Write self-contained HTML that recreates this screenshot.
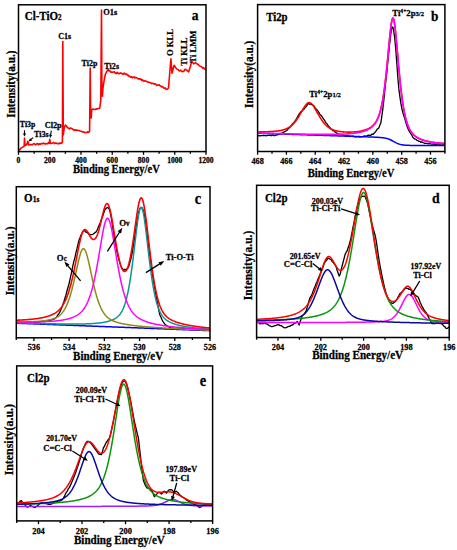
<!DOCTYPE html>
<html><head><meta charset="utf-8"><style>
html,body{margin:0;padding:0;background:#fff;width:457px;height:550px;overflow:hidden}
svg{display:block}
text{font-family:'Liberation Serif',serif;font-weight:bold;fill:#000;stroke:#000;stroke-width:0.25px}
</style></head><body>
<svg width="457" height="550" viewBox="0 0 457 550">
<rect width="457" height="550" fill="#fff"/>
<g>
<path d="M18.80,151.00 L21.00,148.10 L23.00,146.90 L24.20,146.00 L24.50,138.10 L24.90,145.60 L26.50,144.80 L27.90,141.30 L28.50,145.00 L29.31,144.52 L30.12,144.89 L30.94,144.54 L31.75,144.81 L32.56,144.75 L33.38,143.82 L34.19,143.66 L35.00,144.30 L35.88,144.72 L36.75,143.76 L37.62,143.64 L38.50,144.69 L39.38,143.82 L40.25,144.28 L41.12,143.65 L42.00,143.60 L42.81,143.78 L43.62,143.01 L44.43,143.70 L45.24,144.02 L46.06,143.47 L46.87,143.76 L47.68,143.62 L48.49,142.68 L49.30,143.30 L49.75,139.40 L50.30,143.20 L51.11,143.57 L51.93,143.31 L52.74,142.86 L53.56,142.44 L54.37,143.68 L55.19,143.07 L56.00,143.10 L56.83,143.41 L57.66,143.64 L58.49,143.38 L59.31,143.67 L60.14,142.87 L60.97,143.47 L61.80,143.00 L62.40,142.00 L62.80,41.50 L63.30,135.00 L64.20,128.00 L65.40,125.00 L66.43,125.95 L67.47,127.72 L68.50,128.10 L69.40,128.93 L70.30,128.02 L71.20,128.33 L72.10,128.72 L73.00,129.40 L73.88,130.30 L74.75,129.70 L75.62,130.19 L76.50,129.90 L77.38,130.41 L78.25,130.43 L79.12,130.58 L80.00,131.00 L80.85,131.27 L81.70,131.41 L82.55,132.03 L83.40,131.83 L84.25,132.34 L85.10,132.37 L85.95,132.72 L86.80,132.38 L87.65,131.75 L88.50,132.40 L89.60,131.50 L90.20,68.00 L90.60,110.00 L91.20,118.00 L91.80,109.50 L93.00,109.00 L94.00,109.47 L95.00,109.56 L96.00,108.80 L96.95,109.21 L97.90,108.50 L98.85,108.52 L99.80,108.00 L100.80,100.00 L101.50,10.00 L101.90,90.00 L102.40,96.10 L103.00,88.00 L104.10,80.50 L105.30,74.50 L106.70,71.50 L108.00,70.00 L108.40,69.40 L109.00,71.00 L110.00,70.90 L111.00,72.16 L112.00,72.00 L112.86,72.28 L113.71,72.02 L114.57,71.86 L115.43,73.22 L116.29,73.59 L117.14,72.41 L118.00,73.20 L118.88,73.73 L119.75,73.22 L120.62,72.90 L121.50,73.19 L122.38,73.98 L123.25,74.21 L124.12,73.04 L125.00,73.80 L125.83,74.39 L126.67,73.95 L127.50,75.38 L128.33,75.21 L129.17,76.45 L130.00,76.30 L130.83,77.27 L131.67,76.81 L132.50,77.80 L133.33,77.01 L134.17,76.92 L135.00,77.95 L135.83,77.35 L136.67,77.85 L137.50,78.41 L138.33,78.97 L139.17,78.53 L140.00,79.30 L140.83,78.88 L141.67,80.39 L142.50,79.82 L143.33,81.05 L144.17,81.23 L145.00,80.72 L145.83,81.11 L146.67,81.46 L147.50,81.92 L148.33,82.11 L149.17,82.32 L150.00,82.50 L150.83,82.96 L151.67,83.71 L152.50,83.34 L153.33,83.50 L154.17,84.21 L155.00,83.76 L155.83,84.13 L156.67,85.42 L157.50,85.01 L158.33,85.32 L159.17,84.79 L160.00,85.80 L160.88,86.14 L161.75,86.84 L162.62,86.47 L163.50,87.82 L164.38,88.31 L165.25,87.92 L166.12,89.23 L167.00,89.50 L168.50,88.00 L170.40,65.00 L170.90,58.70 L171.50,66.00 L172.00,73.30 L174.10,65.30 L175.10,66.58 L176.10,68.24 L177.10,69.30 L177.95,69.50 L178.80,70.44 L179.65,70.91 L180.50,70.25 L181.35,70.72 L182.20,71.80 L183.07,71.44 L183.95,71.24 L184.82,69.55 L185.70,69.30 L186.70,70.07 L187.70,71.11 L188.70,71.80 L190.50,66.00 L191.70,61.30 L193.70,63.80 L195.20,62.80 L196.05,63.11 L196.90,63.76 L197.75,64.27 L198.60,64.94 L199.45,65.86 L200.30,66.30 L201.13,66.50 L201.97,67.12 L202.80,68.21 L203.63,67.59 L204.47,68.90 L205.30,69.30" fill="none" stroke="#ff0000" stroke-width="1.6" stroke-linejoin="round" stroke-linecap="round" />
<rect x="18.50" y="4.80" width="187.50" height="146.80" fill="none" stroke="#000" stroke-width="1.5"/>
<line x1="18.50" y1="151.60" x2="18.50" y2="154.80" stroke="#000" stroke-width="1.3"/>
<text transform="translate(18.50,162.80) scale(1,1.05)" font-size="7.6" text-anchor="middle" >0</text>
<line x1="34.12" y1="151.60" x2="34.12" y2="153.80" stroke="#000" stroke-width="1.3"/>
<line x1="49.75" y1="151.60" x2="49.75" y2="154.80" stroke="#000" stroke-width="1.3"/>
<text transform="translate(49.75,162.80) scale(1,1.05)" font-size="7.6" text-anchor="middle" >200</text>
<line x1="65.38" y1="151.60" x2="65.38" y2="153.80" stroke="#000" stroke-width="1.3"/>
<line x1="81.00" y1="151.60" x2="81.00" y2="154.80" stroke="#000" stroke-width="1.3"/>
<text transform="translate(81.00,162.80) scale(1,1.05)" font-size="7.6" text-anchor="middle" >400</text>
<line x1="96.62" y1="151.60" x2="96.62" y2="153.80" stroke="#000" stroke-width="1.3"/>
<line x1="112.25" y1="151.60" x2="112.25" y2="154.80" stroke="#000" stroke-width="1.3"/>
<text transform="translate(112.25,162.80) scale(1,1.05)" font-size="7.6" text-anchor="middle" >600</text>
<line x1="127.88" y1="151.60" x2="127.88" y2="153.80" stroke="#000" stroke-width="1.3"/>
<line x1="143.50" y1="151.60" x2="143.50" y2="154.80" stroke="#000" stroke-width="1.3"/>
<text transform="translate(143.50,162.80) scale(1,1.05)" font-size="7.6" text-anchor="middle" >800</text>
<line x1="159.12" y1="151.60" x2="159.12" y2="153.80" stroke="#000" stroke-width="1.3"/>
<line x1="174.75" y1="151.60" x2="174.75" y2="154.80" stroke="#000" stroke-width="1.3"/>
<text transform="translate(174.75,162.80) scale(1,1.05)" font-size="7.6" text-anchor="middle" >1000</text>
<line x1="190.38" y1="151.60" x2="190.38" y2="153.80" stroke="#000" stroke-width="1.3"/>
<line x1="206.00" y1="151.60" x2="206.00" y2="154.80" stroke="#000" stroke-width="1.3"/>
<text transform="translate(206.00,162.80) scale(1,1.05)" font-size="7.6" text-anchor="middle" >1200</text>
<text transform="translate(43.15,19.80) scale(1,1.15)" font-size="11" text-anchor="middle" >Cl-TiO<tspan font-size="7">2</tspan></text>
<text transform="translate(195.05,20.20) scale(1,1.1)" font-size="13.5" text-anchor="middle" >a</text>
<text transform="translate(64.70,39.40) scale(1,1.03)" font-size="8" text-anchor="middle" >C1s</text>
<text transform="translate(110.20,15.00) scale(1,1.03)" font-size="8.4" text-anchor="middle" >O1s</text>
<text transform="translate(89.55,66.30) scale(1,1.03)" font-size="8" text-anchor="middle" >Ti2p</text>
<text transform="translate(111.70,69.00) scale(1,1.03)" font-size="8.1" text-anchor="middle" >Ti2s</text>
<text transform="translate(27.55,126.90) scale(1,1.03)" font-size="7.8" text-anchor="middle" >Ti3p</text>
<text transform="translate(41.30,136.80) scale(1,1.03)" font-size="8.1" text-anchor="middle" >Ti3s</text>
<text transform="translate(53.20,128.10) scale(1,1.03)" font-size="8.3" text-anchor="middle" >Cl2p</text>
<line x1="24.50" y1="130.20" x2="24.50" y2="134.40" stroke="#000" stroke-width="1.1"/>
<polygon points="24.50,136.60 22.90,133.40 26.10,133.40" fill="#000"/>
<line x1="33.20" y1="137.60" x2="30.30" y2="140.00" stroke="#000" stroke-width="1.1"/>
<polygon points="28.60,141.40 30.05,138.13 32.09,140.60" fill="#000"/>
<line x1="51.30" y1="130.60" x2="50.45" y2="135.83" stroke="#000" stroke-width="1.1"/>
<polygon points="50.10,138.00 49.03,134.59 52.19,135.10" fill="#000"/>
<text transform="translate(173.0,42.6) rotate(-90)" font-size="8.6" text-anchor="middle">O KLL</text>
<text transform="translate(186.6,51.7) rotate(-90)" font-size="8.6" text-anchor="middle">Ti KLL</text>
<text transform="translate(196.2,46.65) rotate(-90)" font-size="8.6" text-anchor="middle">Ti LMM</text>
<text transform="translate(15.30,84.15) rotate(-90) scale(1,1.08)" font-size="11.2" text-anchor="middle">Intensity(a.u.)</text>
<text transform="translate(116.40,173.40) scale(1,1.08)" font-size="10.6" text-anchor="middle" >Binding Energy/eV</text>
</g>
<path d="M257.80,135.56 L258.80,135.66 L259.80,135.99 L260.80,135.57 L261.80,135.60 L262.80,135.67 L263.80,135.30 L264.80,135.58 L265.80,135.66 L266.80,135.79 L267.80,135.13 L268.80,135.29 L269.80,135.06 L270.80,135.67 L271.80,135.51 L272.80,134.87 L273.80,135.65 L274.80,135.56 L275.80,135.20 L276.80,135.06 L277.80,134.54 L278.80,134.28 L279.80,134.35 L280.80,133.48 L281.80,133.12 L282.80,132.67 L283.80,131.94 L284.80,131.74 L285.80,131.00 L286.80,130.47 L287.80,129.22 L288.80,128.37 L289.80,127.23 L290.80,126.26 L291.80,124.88 L292.80,123.41 L293.80,122.65 L294.80,121.26 L295.80,119.81 L296.80,118.27 L297.80,116.40 L298.80,114.69 L299.80,113.11 L300.80,111.86 L301.80,111.41 L302.80,110.00 L303.80,109.39 L304.80,108.08 L305.80,107.14 L306.80,105.77 L307.80,104.08 L308.80,103.74 L309.80,104.26 L310.80,103.92 L311.80,104.80 L312.80,105.02 L313.80,105.74 L314.80,107.44 L315.80,108.86 L316.80,109.71 L317.80,110.85 L318.80,112.34 L319.80,114.11 L320.80,115.11 L321.80,116.25 L322.80,117.98 L323.80,119.34 L324.80,120.69 L325.80,122.63 L326.80,123.47 L327.80,125.18 L328.80,126.35 L329.80,127.30 L330.80,128.89 L331.80,129.30 L332.80,130.59 L333.80,130.90 L334.80,131.89 L335.80,132.39 L336.80,133.01 L337.80,134.00 L338.80,134.18 L339.80,134.03 L340.80,134.84 L341.80,134.49 L342.80,134.90 L343.80,135.54 L344.80,135.56 L345.80,135.27 L346.80,136.25 L347.80,135.72 L348.80,135.91 L349.80,136.52 L350.80,136.23 L351.80,136.30 L352.80,136.19 L353.80,136.27 L354.80,136.77 L355.80,136.51 L356.80,136.85 L357.80,136.65 L358.80,136.71 L359.80,137.13 L360.80,136.64 L361.80,136.64 L362.80,136.79 L363.80,136.03 L364.80,135.83 L365.80,136.29 L366.80,135.94 L367.80,135.30 L368.80,135.10 L369.80,135.38 L370.80,135.26 L371.80,134.19 L372.80,134.35 L373.80,133.62 L374.80,132.53 L375.80,131.29 L376.80,129.78 L377.80,128.66 L378.80,128.00 L379.80,125.33 L380.80,123.09 L381.80,116.31 L382.80,109.21 L383.80,100.43 L384.80,90.53 L385.80,81.08 L386.80,72.57 L387.80,62.14 L388.80,52.02 L389.80,42.35 L390.80,33.96 L391.80,27.70 L392.80,26.97 L393.80,31.48 L394.80,38.91 L395.80,49.97 L396.80,63.31 L397.80,77.25 L398.80,88.40 L399.80,96.13 L400.80,102.89 L401.80,108.49 L402.80,112.37 L403.80,115.78 L404.80,118.48 L405.80,122.40 L406.80,125.50 L407.80,128.31 L408.80,130.50 L409.80,132.07 L410.80,133.72 L411.80,135.19 L412.80,137.27 L413.80,138.17 L414.80,139.22 L415.80,139.07 L416.80,140.23 L417.80,140.63 L418.80,141.32 L419.80,141.36 L420.80,142.33 L421.80,141.80 L422.80,142.50 L423.80,142.91 L424.80,143.27 L425.80,143.31 L426.80,143.44 L427.80,143.66 L428.80,143.90 L429.80,143.50 L430.80,143.90 L431.80,144.17 L432.80,144.21 L433.80,143.86 L434.80,144.25 L435.80,144.36 L436.80,144.13 L437.80,144.20 L438.80,144.00 L439.80,144.19 L440.80,144.22 L441.80,143.74 L442.80,144.24 L443.80,144.55 L444.00,144.10" fill="none" stroke="#000" stroke-width="1.3" stroke-linejoin="round" stroke-linecap="round" />
<path d="M257.80,133.24 L258.30,133.25 L258.80,133.27 L259.30,133.29 L259.80,133.30 L260.30,133.32 L260.80,133.34 L261.30,133.35 L261.80,133.37 L262.30,133.39 L262.80,133.40 L263.30,133.42 L263.80,133.44 L264.30,133.45 L264.80,133.47 L265.30,133.49 L265.80,133.50 L266.30,133.52 L266.80,133.53 L267.30,133.55 L267.80,133.57 L268.30,133.58 L268.80,133.60 L269.30,133.62 L269.80,133.63 L270.30,133.65 L270.80,133.67 L271.30,133.68 L271.80,133.70 L272.30,133.72 L272.80,133.73 L273.30,133.75 L273.80,133.77 L274.30,133.78 L274.80,133.80 L275.30,133.82 L275.80,133.83 L276.30,133.85 L276.80,133.87 L277.30,133.88 L277.80,133.90 L278.30,133.92 L278.80,133.93 L279.30,133.95 L279.80,133.97 L280.30,133.98 L280.80,134.00 L281.30,134.02 L281.80,134.03 L282.30,134.05 L282.80,134.07 L283.30,134.08 L283.80,134.10 L284.30,134.12 L284.80,134.13 L285.30,134.15 L285.80,134.16 L286.30,134.18 L286.80,134.20 L287.30,134.21 L287.80,134.23 L288.30,134.25 L288.80,134.26 L289.30,134.28 L289.80,134.30 L290.30,134.31 L290.80,134.33 L291.30,134.35 L291.80,134.36 L292.30,134.38 L292.80,134.40 L293.30,134.41 L293.80,134.43 L294.30,134.45 L294.80,134.46 L295.30,134.48 L295.80,134.50 L296.30,134.51 L296.80,134.53 L297.30,134.55 L297.80,134.56 L298.30,134.58 L298.80,134.60 L299.30,134.61 L299.80,134.63 L300.30,134.65 L300.80,134.66 L301.30,134.68 L301.80,134.70 L302.30,134.71 L302.80,134.73 L303.30,134.75 L303.80,134.76 L304.30,134.78 L304.80,134.79 L305.30,134.81 L305.80,134.83 L306.30,134.84 L306.80,134.86 L307.30,134.88 L307.80,134.89 L308.30,134.91 L308.80,134.93 L309.30,134.94 L309.80,134.96 L310.30,134.98 L310.80,134.99 L311.30,135.01 L311.80,135.03 L312.30,135.04 L312.80,135.06 L313.30,135.08 L313.80,135.09 L314.30,135.11 L314.80,135.13 L315.30,135.14 L315.80,135.16 L316.30,135.18 L316.80,135.19 L317.30,135.21 L317.80,135.23 L318.30,135.24 L318.80,135.26 L319.30,135.28 L319.80,135.29 L320.30,135.31 L320.80,135.33 L321.30,135.34 L321.80,135.36 L322.30,135.37 L322.80,135.39 L323.30,135.41 L323.80,135.42 L324.30,135.44 L324.80,135.46 L325.30,135.47 L325.80,135.49 L326.30,135.51 L326.80,135.52 L327.30,135.54 L327.80,135.56 L328.30,135.57 L328.80,135.59 L329.30,135.61 L329.80,135.62 L330.30,135.64 L330.80,135.66 L331.30,135.67 L331.80,135.69 L332.30,135.71 L332.80,135.72 L333.30,135.74 L333.80,135.76 L334.30,135.77 L334.80,135.79 L335.30,135.81 L335.80,135.82 L336.30,135.84 L336.80,135.86 L337.30,135.87 L337.80,135.89 L338.30,135.91 L338.80,135.92 L339.30,135.94 L339.80,135.96 L340.30,135.97 L340.80,135.99 L341.30,136.00 L341.80,136.02 L342.30,136.04 L342.80,136.05 L343.30,136.07 L343.80,136.09 L344.30,136.10 L344.80,136.12 L345.30,136.14 L345.80,136.15 L346.30,136.17 L346.80,136.19 L347.30,136.20 L347.80,136.22 L348.30,136.24 L348.80,136.25 L349.30,136.27 L349.80,136.29 L350.30,136.30 L350.80,136.32 L351.30,136.34 L351.80,136.35 L352.30,136.37 L352.80,136.39 L353.30,136.40 L353.80,136.42 L354.30,136.44 L354.80,136.45 L355.30,136.47 L355.80,136.49 L356.30,136.50 L356.80,136.52 L357.30,136.54 L357.80,136.55 L358.30,136.57 L358.80,136.59 L359.30,136.60 L359.80,136.62 L360.30,136.64 L360.80,136.65 L361.30,136.67 L361.80,136.69 L362.30,136.70 L362.80,136.72 L363.30,136.74 L363.80,136.75 L364.30,136.77 L364.80,136.79 L365.30,136.80 L365.80,136.82 L366.30,136.84 L366.80,136.86 L367.30,136.87 L367.80,136.89 L368.30,136.91 L368.80,136.93 L369.30,136.94 L369.80,136.96 L370.30,136.98 L370.80,137.00 L371.30,137.02 L371.80,137.04 L372.30,137.06 L372.80,137.08 L373.30,137.10 L373.80,137.12 L374.30,137.14 L374.80,137.16 L375.30,137.19 L375.80,137.21 L376.30,137.24 L376.80,137.26 L377.30,137.29 L377.80,137.32 L378.30,137.36 L378.80,137.39 L379.30,137.43 L379.80,137.47 L380.30,137.51 L380.80,137.56 L381.30,137.61 L381.80,137.67 L382.30,137.72 L382.80,137.77 L383.30,137.82 L383.80,137.89 L384.30,137.96 L384.80,138.04 L385.30,138.13 L385.80,138.24 L386.30,138.35 L386.80,138.48 L387.30,138.62 L387.80,138.77 L388.30,138.94 L388.80,139.12 L389.30,139.31 L389.80,139.53 L390.30,139.75 L390.80,139.99 L391.30,140.24 L391.80,140.50 L392.30,140.77 L392.80,141.04 L393.30,141.32 L393.80,141.60 L394.30,141.87 L394.80,142.14 L395.30,142.41 L395.80,142.67 L396.30,142.91 L396.80,143.15 L397.30,143.37 L397.80,143.58 L398.30,143.77 L398.80,143.95 L399.30,144.11 L399.80,144.26 L400.30,144.39 L400.80,144.52 L401.30,144.63 L401.80,144.72 L402.30,144.81 L402.80,144.89 L403.30,144.96 L403.80,145.02 L404.30,145.08 L404.80,145.13 L405.30,145.17 L405.80,145.21 L406.30,145.24 L406.80,145.27 L407.30,145.30 L407.80,145.32 L408.30,145.34 L408.80,145.36 L409.30,145.37 L409.80,145.39 L410.30,145.40 L410.80,145.41 L411.30,145.42 L411.80,145.42 L412.30,145.43 L412.80,145.44 L413.30,145.44 L413.80,145.45 L414.30,145.45 L414.80,145.45 L415.30,145.46 L415.80,145.46 L416.30,145.46 L416.80,145.46 L417.30,145.47 L417.80,145.47 L418.30,145.47 L418.80,145.47 L419.30,145.47 L419.80,145.47 L420.30,145.47 L420.80,145.47 L421.30,145.47 L421.80,145.47 L422.30,145.47 L422.80,145.47 L423.30,145.48 L423.80,145.48 L424.30,145.48 L424.80,145.48 L425.30,145.48 L425.80,145.48 L426.30,145.48 L426.80,145.48 L427.30,145.48 L427.80,145.48 L428.30,145.48 L428.80,145.48 L429.30,145.48 L429.80,145.48 L430.30,145.48 L430.80,145.48 L431.30,145.48 L431.80,145.48 L432.30,145.48 L432.80,145.48 L433.30,145.48 L433.80,145.48 L434.30,145.48 L434.80,145.48 L435.30,145.48 L435.80,145.48 L436.30,145.48 L436.80,145.48 L437.30,145.48 L437.80,145.48 L438.30,145.48 L438.80,145.48 L439.30,145.48 L439.80,145.48 L440.30,145.48 L440.80,145.48 L441.30,145.48 L441.80,145.48 L442.30,145.48 L442.80,145.48 L443.30,145.48 L443.80,145.48 L444.00,145.48" fill="none" stroke="#0000ff" stroke-width="1.5" stroke-linejoin="round" stroke-linecap="round" />
<path d="M257.80,131.95 L258.30,131.94 L258.80,131.94 L259.30,131.93 L259.80,131.92 L260.30,131.92 L260.80,131.91 L261.30,131.90 L261.80,131.89 L262.30,131.88 L262.80,131.87 L263.30,131.86 L263.80,131.85 L264.30,131.84 L264.80,131.82 L265.30,131.81 L265.80,131.79 L266.30,131.77 L266.80,131.76 L267.30,131.74 L267.80,131.72 L268.30,131.70 L268.80,131.67 L269.30,131.65 L269.80,131.63 L270.30,131.60 L270.80,131.57 L271.30,131.54 L271.80,131.51 L272.30,131.48 L272.80,131.44 L273.30,131.40 L273.80,131.36 L274.30,131.32 L274.80,131.28 L275.30,131.23 L275.80,131.18 L276.30,131.12 L276.80,131.07 L277.30,131.00 L277.80,130.94 L278.30,130.87 L278.80,130.80 L279.30,130.72 L279.80,130.63 L280.30,130.54 L280.80,130.44 L281.30,130.34 L281.80,130.23 L282.30,130.11 L282.80,129.98 L283.30,129.84 L283.80,129.70 L284.30,129.54 L284.80,129.37 L285.30,129.19 L285.80,128.99 L286.30,128.78 L286.80,128.56 L287.30,128.32 L287.80,128.06 L288.30,127.79 L288.80,127.50 L289.30,127.18 L289.80,126.85 L290.30,126.49 L290.80,126.12 L291.30,125.71 L291.80,125.29 L292.30,124.84 L292.80,124.36 L293.30,123.86 L293.80,123.32 L294.30,122.77 L294.80,122.18 L295.30,121.56 L295.80,120.92 L296.30,120.25 L296.80,119.55 L297.30,118.82 L297.80,118.07 L298.30,117.29 L298.80,116.49 L299.30,115.67 L299.80,114.83 L300.30,113.97 L300.80,113.10 L301.30,112.22 L301.80,111.34 L302.30,110.45 L302.80,109.58 L303.30,108.72 L303.80,107.88 L304.30,107.07 L304.80,106.31 L305.30,105.59 L305.80,104.92 L306.30,104.33 L306.80,103.81 L307.30,103.38 L307.80,103.04 L308.30,102.80 L308.80,102.66 L309.30,102.63 L309.80,102.70 L310.30,102.88 L310.80,103.16 L311.30,103.54 L311.80,104.01 L312.30,104.56 L312.80,105.19 L313.30,105.88 L313.80,106.63 L314.30,107.43 L314.80,108.26 L315.30,109.12 L315.80,110.00 L316.30,110.89 L316.80,111.79 L317.30,112.69 L317.80,113.58 L318.30,114.47 L318.80,115.34 L319.30,116.19 L319.80,117.02 L320.30,117.83 L320.80,118.62 L321.30,119.38 L321.80,120.11 L322.30,120.82 L322.80,121.50 L323.30,122.15 L323.80,122.77 L324.30,123.36 L324.80,123.93 L325.30,124.47 L325.80,124.98 L326.30,125.46 L326.80,125.92 L327.30,126.35 L327.80,126.76 L328.30,127.14 L328.80,127.50 L329.30,127.84 L329.80,128.16 L330.30,128.46 L330.80,128.73 L331.30,129.00 L331.80,129.24 L332.30,129.47 L332.80,129.68 L333.30,129.88 L333.80,130.06 L334.30,130.24 L334.80,130.40 L335.30,130.55 L335.80,130.69 L336.30,130.82 L336.80,130.94 L337.30,131.05 L337.80,131.15 L338.30,131.25 L338.80,131.34 L339.30,131.42 L339.80,131.50 L340.30,131.57 L340.80,131.63 L341.30,131.69 L341.80,131.75 L342.30,131.80 L342.80,131.84 L343.30,131.89 L343.80,131.92 L344.30,131.96 L344.80,131.99 L345.30,132.01 L345.80,132.04 L346.30,132.06 L346.80,132.07 L347.30,132.09 L347.80,132.10 L348.30,132.10 L348.80,132.11 L349.30,132.11 L349.80,132.10 L350.30,132.10 L350.80,132.09 L351.30,132.07 L351.80,132.06 L352.30,132.04 L352.80,132.01 L353.30,131.99 L353.80,131.96 L354.30,131.92 L354.80,131.89 L355.30,131.84 L355.80,131.80 L356.30,131.75 L356.80,131.69 L357.30,131.63 L357.80,131.57 L358.30,131.50 L358.80,131.43 L359.30,131.35 L359.80,131.27 L360.30,131.18 L360.80,131.08 L361.30,130.98 L361.80,130.87 L362.30,130.75 L362.80,130.63 L363.30,130.50 L363.80,130.36 L364.30,130.21 L364.80,130.05 L365.30,129.88 L365.80,129.71 L366.30,129.52 L366.80,129.32 L367.30,129.10 L367.80,128.87 L368.30,128.63 L368.80,128.37 L369.30,128.09 L369.80,127.80 L370.30,127.48 L370.80,127.15 L371.30,126.78 L371.80,126.39 L372.30,125.97 L372.80,125.52 L373.30,125.03 L373.80,124.50 L374.30,123.93 L374.80,123.30 L375.30,122.62 L375.80,121.87 L376.30,121.06 L376.80,120.16 L377.30,119.18 L377.80,118.09 L378.30,116.90 L378.80,115.59 L379.30,114.15 L379.80,112.56 L380.30,110.81 L380.80,108.89 L381.30,106.78 L381.80,104.47 L382.30,101.93 L382.80,99.15 L383.30,96.14 L383.80,92.87 L384.30,89.33 L384.80,85.53 L385.30,81.46 L385.80,77.11 L386.30,72.51 L386.80,67.67 L387.30,62.62 L387.80,57.40 L388.30,52.07 L388.80,46.70 L389.30,41.40 L389.80,36.29 L390.30,31.51 L390.80,27.21 L391.30,23.56 L391.80,20.73 L392.30,18.84 L392.80,18.00 L393.30,18.27 L393.80,19.65 L394.30,22.07 L394.80,25.43 L395.30,29.58 L395.80,34.37 L396.30,39.62 L396.80,45.19 L397.30,50.91 L397.80,56.67 L398.30,62.38 L398.80,67.94 L399.30,73.31 L399.80,78.44 L400.30,83.31 L400.80,87.89 L401.30,92.18 L401.80,96.18 L402.30,99.89 L402.80,103.32 L403.30,106.48 L403.80,109.38 L404.30,112.05 L404.80,114.48 L405.30,116.70 L405.80,118.72 L406.30,120.56 L406.80,122.23 L407.30,123.75 L407.80,125.13 L408.30,126.39 L408.80,127.53 L409.30,128.57 L409.80,129.52 L410.30,130.39 L410.80,131.18 L411.30,131.91 L411.80,132.58 L412.30,133.20 L412.80,133.77 L413.30,134.30 L413.80,134.79 L414.30,135.24 L414.80,135.67 L415.30,136.07 L415.80,136.44 L416.30,136.79 L416.80,137.12 L417.30,137.43 L417.80,137.73 L418.30,138.01 L418.80,138.27 L419.30,138.52 L419.80,138.75 L420.30,138.98 L420.80,139.19 L421.30,139.39 L421.80,139.58 L422.30,139.77 L422.80,139.94 L423.30,140.11 L423.80,140.27 L424.30,140.42 L424.80,140.57 L425.30,140.71 L425.80,140.84 L426.30,140.97 L426.80,141.09 L427.30,141.21 L427.80,141.32 L428.30,141.43 L428.80,141.54 L429.30,141.64 L429.80,141.73 L430.30,141.83 L430.80,141.92 L431.30,142.00 L431.80,142.09 L432.30,142.17 L432.80,142.24 L433.30,142.32 L433.80,142.39 L434.30,142.46 L434.80,142.53 L435.30,142.59 L435.80,142.65 L436.30,142.71 L436.80,142.77 L437.30,142.83 L437.80,142.88 L438.30,142.94 L438.80,142.99 L439.30,143.04 L439.80,143.09 L440.30,143.14 L440.80,143.18 L441.30,143.23 L441.80,143.27 L442.30,143.31 L442.80,143.35 L443.30,143.39 L443.80,143.43 L444.00,143.44" fill="none" stroke="#ff0000" stroke-width="1.6" stroke-linejoin="round" stroke-linecap="round" />
<path d="M257.80,132.97 L258.30,132.98 L258.80,132.99 L259.30,133.01 L259.80,133.02 L260.30,133.04 L260.80,133.05 L261.30,133.07 L261.80,133.08 L262.30,133.10 L262.80,133.11 L263.30,133.12 L263.80,133.14 L264.30,133.15 L264.80,133.17 L265.30,133.18 L265.80,133.20 L266.30,133.21 L266.80,133.22 L267.30,133.24 L267.80,133.25 L268.30,133.27 L268.80,133.28 L269.30,133.29 L269.80,133.31 L270.30,133.32 L270.80,133.34 L271.30,133.35 L271.80,133.36 L272.30,133.38 L272.80,133.39 L273.30,133.40 L273.80,133.42 L274.30,133.43 L274.80,133.45 L275.30,133.46 L275.80,133.47 L276.30,133.49 L276.80,133.50 L277.30,133.51 L277.80,133.53 L278.30,133.54 L278.80,133.55 L279.30,133.57 L279.80,133.58 L280.30,133.59 L280.80,133.61 L281.30,133.62 L281.80,133.63 L282.30,133.64 L282.80,133.66 L283.30,133.67 L283.80,133.68 L284.30,133.70 L284.80,133.71 L285.30,133.72 L285.80,133.73 L286.30,133.75 L286.80,133.76 L287.30,133.77 L287.80,133.78 L288.30,133.80 L288.80,133.81 L289.30,133.82 L289.80,133.83 L290.30,133.85 L290.80,133.86 L291.30,133.87 L291.80,133.88 L292.30,133.89 L292.80,133.90 L293.30,133.92 L293.80,133.93 L294.30,133.94 L294.80,133.95 L295.30,133.96 L295.80,133.97 L296.30,133.98 L296.80,134.00 L297.30,134.01 L297.80,134.02 L298.30,134.03 L298.80,134.04 L299.30,134.05 L299.80,134.06 L300.30,134.07 L300.80,134.08 L301.30,134.09 L301.80,134.10 L302.30,134.11 L302.80,134.12 L303.30,134.13 L303.80,134.14 L304.30,134.15 L304.80,134.16 L305.30,134.17 L305.80,134.18 L306.30,134.19 L306.80,134.20 L307.30,134.21 L307.80,134.21 L308.30,134.22 L308.80,134.23 L309.30,134.24 L309.80,134.25 L310.30,134.26 L310.80,134.26 L311.30,134.27 L311.80,134.28 L312.30,134.29 L312.80,134.29 L313.30,134.30 L313.80,134.31 L314.30,134.31 L314.80,134.32 L315.30,134.33 L315.80,134.33 L316.30,134.34 L316.80,134.34 L317.30,134.35 L317.80,134.36 L318.30,134.36 L318.80,134.37 L319.30,134.37 L319.80,134.37 L320.30,134.38 L320.80,134.38 L321.30,134.39 L321.80,134.39 L322.30,134.39 L322.80,134.39 L323.30,134.40 L323.80,134.40 L324.30,134.40 L324.80,134.40 L325.30,134.40 L325.80,134.40 L326.30,134.40 L326.80,134.40 L327.30,134.40 L327.80,134.40 L328.30,134.40 L328.80,134.40 L329.30,134.40 L329.80,134.40 L330.30,134.39 L330.80,134.39 L331.30,134.39 L331.80,134.38 L332.30,134.38 L332.80,134.37 L333.30,134.37 L333.80,134.36 L334.30,134.35 L334.80,134.35 L335.30,134.34 L335.80,134.33 L336.30,134.32 L336.80,134.31 L337.30,134.30 L337.80,134.29 L338.30,134.27 L338.80,134.26 L339.30,134.25 L339.80,134.23 L340.30,134.22 L340.80,134.20 L341.30,134.18 L341.80,134.16 L342.30,134.14 L342.80,134.12 L343.30,134.10 L343.80,134.08 L344.30,134.06 L344.80,134.03 L345.30,134.00 L345.80,133.98 L346.30,133.95 L346.80,133.92 L347.30,133.88 L347.80,133.85 L348.30,133.82 L348.80,133.78 L349.30,133.74 L349.80,133.70 L350.30,133.66 L350.80,133.61 L351.30,133.57 L351.80,133.52 L352.30,133.46 L352.80,133.41 L353.30,133.35 L353.80,133.30 L354.30,133.23 L354.80,133.17 L355.30,133.10 L355.80,133.03 L356.30,132.96 L356.80,132.88 L357.30,132.80 L357.80,132.71 L358.30,132.62 L358.80,132.52 L359.30,132.43 L359.80,132.32 L360.30,132.21 L360.80,132.10 L361.30,131.98 L361.80,131.85 L362.30,131.72 L362.80,131.57 L363.30,131.43 L363.80,131.27 L364.30,131.11 L364.80,130.93 L365.30,130.75 L365.80,130.56 L366.30,130.35 L366.80,130.14 L367.30,129.91 L367.80,129.67 L368.30,129.41 L368.80,129.14 L369.30,128.85 L369.80,128.55 L370.30,128.22 L370.80,127.87 L371.30,127.49 L371.80,127.09 L372.30,126.66 L372.80,126.20 L373.30,125.70 L373.80,125.16 L374.30,124.58 L374.80,123.94 L375.30,123.25 L375.80,122.49 L376.30,121.67 L376.80,120.76 L377.30,119.77 L377.80,118.68 L378.30,117.48 L378.80,116.16 L379.30,114.71 L379.80,113.12 L380.30,111.36 L380.80,109.43 L381.30,107.31 L381.80,104.99 L382.30,102.45 L382.80,99.67 L383.30,96.64 L383.80,93.36 L384.30,89.82 L384.80,86.01 L385.30,81.93 L385.80,77.59 L386.30,72.98 L386.80,68.13 L387.30,63.08 L387.80,57.85 L388.30,52.51 L388.80,47.14 L389.30,41.84 L389.80,36.72 L390.30,31.93 L390.80,27.63 L391.30,23.98 L391.80,21.14 L392.30,19.24 L392.80,18.40 L393.30,18.67 L393.80,20.04 L394.30,22.45 L394.80,25.81 L395.30,29.96 L395.80,34.74 L396.30,39.99 L396.80,45.55 L397.30,51.27 L397.80,57.03 L398.30,62.73 L398.80,68.29 L399.30,73.66 L399.80,78.78 L400.30,83.64 L400.80,88.22 L401.30,92.51 L401.80,96.50 L402.30,100.21 L402.80,103.64 L403.30,106.80 L403.80,109.70 L404.30,112.35 L404.80,114.78 L405.30,117.00 L405.80,119.02 L406.30,120.85 L406.80,122.52 L407.30,124.04 L407.80,125.42 L408.30,126.67 L408.80,127.81 L409.30,128.85 L409.80,129.80 L410.30,130.66 L410.80,131.45 L411.30,132.18 L411.80,132.84 L412.30,133.46 L412.80,134.03 L413.30,134.55 L413.80,135.04 L414.30,135.50 L414.80,135.92 L415.30,136.32 L415.80,136.69 L416.30,137.04 L416.80,137.37 L417.30,137.67 L417.80,137.97 L418.30,138.24 L418.80,138.50 L419.30,138.75 L419.80,138.98 L420.30,139.20 L420.80,139.41 L421.30,139.62 L421.80,139.81 L422.30,139.99 L422.80,140.16 L423.30,140.33 L423.80,140.48 L424.30,140.64 L424.80,140.78 L425.30,140.92 L425.80,141.05 L426.30,141.18 L426.80,141.30 L427.30,141.41 L427.80,141.52 L428.30,141.63 L428.80,141.73 L429.30,141.83 L429.80,141.93 L430.30,142.02 L430.80,142.11 L431.30,142.19 L431.80,142.27 L432.30,142.35 L432.80,142.43 L433.30,142.50 L433.80,142.57 L434.30,142.64 L434.80,142.70 L435.30,142.77 L435.80,142.83 L436.30,142.89 L436.80,142.95 L437.30,143.00 L437.80,143.06 L438.30,143.11 L438.80,143.16 L439.30,143.21 L439.80,143.25 L440.30,143.30 L440.80,143.34 L441.30,143.39 L441.80,143.43 L442.30,143.47 L442.80,143.51 L443.30,143.55 L443.80,143.58 L444.00,143.60" fill="none" stroke="#ff00ff" stroke-width="1.6" stroke-linejoin="round" stroke-linecap="round" />
<rect x="257.60" y="4.60" width="187.30" height="146.90" fill="none" stroke="#000" stroke-width="1.5"/>
<line x1="444.90" y1="151.50" x2="444.90" y2="153.70" stroke="#000" stroke-width="1.3"/>
<line x1="430.49" y1="151.50" x2="430.49" y2="154.70" stroke="#000" stroke-width="1.3"/>
<text transform="translate(430.49,163.50) scale(1,1.05)" font-size="8.2" text-anchor="middle" >456</text>
<line x1="416.08" y1="151.50" x2="416.08" y2="153.70" stroke="#000" stroke-width="1.3"/>
<line x1="401.68" y1="151.50" x2="401.68" y2="154.70" stroke="#000" stroke-width="1.3"/>
<text transform="translate(401.68,163.50) scale(1,1.05)" font-size="8.2" text-anchor="middle" >458</text>
<line x1="387.27" y1="151.50" x2="387.27" y2="153.70" stroke="#000" stroke-width="1.3"/>
<line x1="372.86" y1="151.50" x2="372.86" y2="154.70" stroke="#000" stroke-width="1.3"/>
<text transform="translate(372.86,163.50) scale(1,1.05)" font-size="8.2" text-anchor="middle" >460</text>
<line x1="358.45" y1="151.50" x2="358.45" y2="153.70" stroke="#000" stroke-width="1.3"/>
<line x1="344.05" y1="151.50" x2="344.05" y2="154.70" stroke="#000" stroke-width="1.3"/>
<text transform="translate(344.05,163.50) scale(1,1.05)" font-size="8.2" text-anchor="middle" >462</text>
<line x1="329.64" y1="151.50" x2="329.64" y2="153.70" stroke="#000" stroke-width="1.3"/>
<line x1="315.23" y1="151.50" x2="315.23" y2="154.70" stroke="#000" stroke-width="1.3"/>
<text transform="translate(315.23,163.50) scale(1,1.05)" font-size="8.2" text-anchor="middle" >464</text>
<line x1="300.82" y1="151.50" x2="300.82" y2="153.70" stroke="#000" stroke-width="1.3"/>
<line x1="286.42" y1="151.50" x2="286.42" y2="154.70" stroke="#000" stroke-width="1.3"/>
<text transform="translate(286.42,163.50) scale(1,1.05)" font-size="8.2" text-anchor="middle" >466</text>
<line x1="272.01" y1="151.50" x2="272.01" y2="153.70" stroke="#000" stroke-width="1.3"/>
<line x1="257.60" y1="151.50" x2="257.60" y2="154.70" stroke="#000" stroke-width="1.3"/>
<text transform="translate(257.60,163.50) scale(1,1.05)" font-size="8.2" text-anchor="middle" >468</text>
<text transform="translate(276.90,21.00) scale(1,1.15)" font-size="10.8" text-anchor="middle" >Ti2p</text>
<text transform="translate(434.60,20.50) scale(1,1.1)" font-size="13.3" text-anchor="middle" >b</text>
<text transform="translate(309.20,97.00) scale(1,1.03)" font-size="8.7" text-anchor="start" >Ti<tspan font-size="5.6" dy="-3.4">4+</tspan><tspan dy="3.4">2p</tspan><tspan font-size="6.6">1/2</tspan></text>
<text transform="translate(392.30,16.30) scale(1,1.03)" font-size="8.7" text-anchor="start" >Ti<tspan font-size="5.6" dy="-3.4">4+</tspan><tspan dy="3.4">2p</tspan><tspan font-size="6.6">3/2</tspan></text>
<text transform="translate(253.20,74.35) rotate(-90) scale(1,1.08)" font-size="11.2" text-anchor="middle">Intensity(a.u.)</text>
<text transform="translate(351.00,176.90) scale(1,1.08)" font-size="10.6" text-anchor="middle" >Binding Energy/eV</text>
<path d="M16.90,323.09 L17.90,323.17 L18.90,323.21 L19.90,323.31 L20.90,323.16 L21.90,323.27 L22.90,322.64 L23.90,322.92 L24.90,323.23 L25.90,323.00 L26.90,323.15 L27.90,322.56 L28.90,322.77 L29.90,322.56 L30.90,322.72 L31.90,322.68 L32.90,322.22 L33.90,322.29 L34.90,322.25 L35.90,322.61 L36.90,322.40 L37.90,321.87 L38.90,322.20 L39.90,321.61 L40.90,321.80 L41.90,321.30 L42.90,321.09 L43.90,321.59 L44.90,321.00 L45.90,320.86 L46.90,321.24 L47.90,320.97 L48.90,320.35 L49.90,320.58 L50.90,320.01 L51.90,319.80 L52.90,319.11 L53.90,319.22 L54.90,318.59 L55.90,317.95 L56.90,316.68 L57.90,314.95 L58.90,313.58 L59.90,311.92 L60.90,309.77 L61.90,307.13 L62.90,304.53 L63.90,301.77 L64.90,298.17 L65.90,295.21 L66.90,291.27 L67.90,287.70 L68.90,284.24 L69.90,279.88 L70.90,275.31 L71.90,270.64 L72.90,265.70 L73.90,261.13 L74.90,257.71 L75.90,252.80 L76.90,248.95 L77.90,244.67 L78.90,240.59 L79.90,238.06 L80.90,235.23 L81.90,233.59 L82.90,231.42 L83.90,230.56 L84.90,230.74 L85.90,232.23 L86.90,232.32 L87.90,233.12 L88.90,233.89 L89.90,234.54 L90.90,234.57 L91.90,234.66 L92.90,234.36 L93.90,233.53 L94.90,232.66 L95.90,232.15 L96.90,230.53 L97.90,228.26 L98.90,225.47 L99.90,223.88 L100.90,220.67 L101.90,218.07 L102.90,215.41 L103.90,212.57 L104.90,209.80 L105.90,208.83 L106.90,207.82 L107.90,207.38 L108.90,208.55 L109.90,210.96 L110.90,215.68 L111.90,221.50 L112.90,228.21 L113.90,235.02 L114.90,240.50 L115.90,245.74 L116.90,251.39 L117.90,255.60 L118.90,259.60 L119.90,262.97 L120.90,266.03 L121.90,268.28 L122.90,269.34 L123.90,269.84 L124.90,269.27 L125.90,270.11 L126.90,269.02 L127.90,267.97 L128.90,265.97 L129.90,262.36 L130.90,258.87 L131.90,254.36 L132.90,248.53 L133.90,242.34 L134.90,235.28 L135.90,228.90 L136.90,222.23 L137.90,216.85 L138.90,211.71 L139.90,208.57 L140.90,207.57 L141.90,207.61 L142.90,209.39 L143.90,212.64 L144.90,217.88 L145.90,224.47 L146.90,231.74 L147.90,239.49 L148.90,247.56 L149.90,255.27 L150.90,263.02 L151.90,270.56 L152.90,277.08 L153.90,283.33 L154.90,289.22 L155.90,294.45 L156.90,299.70 L157.90,305.39 L158.90,310.77 L159.90,314.90 L160.90,317.07 L161.90,319.53 L162.90,321.37 L163.90,322.90 L164.90,324.15 L165.90,325.17 L166.90,325.70 L167.90,326.62 L168.90,326.87 L169.90,327.38 L170.90,327.87 L171.90,328.06 L172.90,327.98 L173.90,328.59 L174.90,328.51 L175.90,328.56 L176.90,328.23 L177.90,328.65 L178.90,328.47 L179.90,328.78 L180.90,328.63 L181.90,328.86 L182.90,328.71 L183.90,328.77 L184.90,328.40 L185.90,328.71 L186.90,328.88 L187.90,329.04 L188.90,328.80 L189.90,329.22 L190.90,329.32 L191.90,329.26 L192.90,329.53 L193.90,329.57 L194.90,329.31 L195.90,329.37 L196.90,329.15 L197.90,329.66 L198.90,329.76 L199.90,329.47 L200.90,329.65 L201.90,329.69 L202.90,329.71 L203.90,329.34 L204.90,329.78 L205.90,329.64 L206.90,329.71 L207.90,329.54 L208.90,329.69 L209.30,329.60" fill="none" stroke="#000" stroke-width="1.3" stroke-linejoin="round" stroke-linecap="round" />
<path d="M16.90,323.23 L17.40,323.25 L17.90,323.27 L18.40,323.29 L18.90,323.31 L19.40,323.33 L19.90,323.35 L20.40,323.37 L20.90,323.39 L21.40,323.41 L21.90,323.43 L22.40,323.45 L22.90,323.47 L23.40,323.48 L23.90,323.50 L24.40,323.52 L24.90,323.54 L25.40,323.56 L25.90,323.58 L26.40,323.60 L26.90,323.62 L27.40,323.64 L27.90,323.66 L28.40,323.68 L28.90,323.70 L29.40,323.72 L29.90,323.74 L30.40,323.75 L30.90,323.77 L31.40,323.79 L31.90,323.81 L32.40,323.83 L32.90,323.85 L33.40,323.87 L33.90,323.89 L34.40,323.91 L34.90,323.93 L35.40,323.95 L35.90,323.97 L36.40,323.99 L36.90,324.00 L37.40,324.02 L37.90,324.04 L38.40,324.06 L38.90,324.08 L39.40,324.10 L39.90,324.12 L40.40,324.14 L40.90,324.16 L41.40,324.18 L41.90,324.20 L42.40,324.22 L42.90,324.24 L43.40,324.25 L43.90,324.27 L44.40,324.29 L44.90,324.31 L45.40,324.33 L45.90,324.35 L46.40,324.37 L46.90,324.39 L47.40,324.41 L47.90,324.43 L48.40,324.45 L48.90,324.47 L49.40,324.49 L49.90,324.51 L50.40,324.52 L50.90,324.54 L51.40,324.56 L51.90,324.58 L52.40,324.60 L52.90,324.62 L53.40,324.64 L53.90,324.66 L54.40,324.68 L54.90,324.70 L55.40,324.72 L55.90,324.74 L56.40,324.76 L56.90,324.77 L57.40,324.79 L57.90,324.81 L58.40,324.83 L58.90,324.85 L59.40,324.87 L59.90,324.89 L60.40,324.91 L60.90,324.93 L61.40,324.95 L61.90,324.97 L62.40,324.99 L62.90,325.01 L63.40,325.02 L63.90,325.04 L64.40,325.06 L64.90,325.08 L65.40,325.10 L65.90,325.12 L66.40,325.14 L66.90,325.16 L67.40,325.18 L67.90,325.20 L68.40,325.22 L68.90,325.24 L69.40,325.26 L69.90,325.28 L70.40,325.29 L70.90,325.31 L71.40,325.33 L71.90,325.35 L72.40,325.37 L72.90,325.39 L73.40,325.41 L73.90,325.43 L74.40,325.45 L74.90,325.47 L75.40,325.49 L75.90,325.51 L76.40,325.53 L76.90,325.54 L77.40,325.56 L77.90,325.58 L78.40,325.60 L78.90,325.62 L79.40,325.64 L79.90,325.66 L80.40,325.68 L80.90,325.70 L81.40,325.72 L81.90,325.74 L82.40,325.76 L82.90,325.78 L83.40,325.79 L83.90,325.81 L84.40,325.83 L84.90,325.85 L85.40,325.87 L85.90,325.89 L86.40,325.91 L86.90,325.93 L87.40,325.95 L87.90,325.97 L88.40,325.99 L88.90,326.01 L89.40,326.03 L89.90,326.05 L90.40,326.06 L90.90,326.08 L91.40,326.10 L91.90,326.12 L92.40,326.14 L92.90,326.16 L93.40,326.18 L93.90,326.20 L94.40,326.22 L94.90,326.24 L95.40,326.26 L95.90,326.28 L96.40,326.30 L96.90,326.31 L97.40,326.33 L97.90,326.35 L98.40,326.37 L98.90,326.39 L99.40,326.41 L99.90,326.43 L100.40,326.45 L100.90,326.47 L101.40,326.49 L101.90,326.51 L102.40,326.53 L102.90,326.55 L103.40,326.56 L103.90,326.58 L104.40,326.60 L104.90,326.62 L105.40,326.64 L105.90,326.66 L106.40,326.68 L106.90,326.70 L107.40,326.72 L107.90,326.74 L108.40,326.76 L108.90,326.78 L109.40,326.80 L109.90,326.82 L110.40,326.83 L110.90,326.85 L111.40,326.87 L111.90,326.89 L112.40,326.91 L112.90,326.93 L113.40,326.95 L113.90,326.97 L114.40,326.99 L114.90,327.01 L115.40,327.03 L115.90,327.05 L116.40,327.07 L116.90,327.08 L117.40,327.10 L117.90,327.12 L118.40,327.14 L118.90,327.16 L119.40,327.18 L119.90,327.20 L120.40,327.22 L120.90,327.24 L121.40,327.26 L121.90,327.28 L122.40,327.30 L122.90,327.32 L123.40,327.33 L123.90,327.35 L124.40,327.37 L124.90,327.39 L125.40,327.41 L125.90,327.43 L126.40,327.45 L126.90,327.47 L127.40,327.49 L127.90,327.51 L128.40,327.53 L128.90,327.55 L129.40,327.57 L129.90,327.59 L130.40,327.60 L130.90,327.62 L131.40,327.64 L131.90,327.66 L132.40,327.68 L132.90,327.70 L133.40,327.72 L133.90,327.74 L134.40,327.76 L134.90,327.78 L135.40,327.80 L135.90,327.82 L136.40,327.84 L136.90,327.85 L137.40,327.87 L137.90,327.89 L138.40,327.91 L138.90,327.93 L139.40,327.95 L139.90,327.97 L140.40,327.99 L140.90,328.01 L141.40,328.03 L141.90,328.05 L142.40,328.07 L142.90,328.09 L143.40,328.10 L143.90,328.12 L144.40,328.14 L144.90,328.16 L145.40,328.18 L145.90,328.20 L146.40,328.22 L146.90,328.24 L147.40,328.26 L147.90,328.28 L148.40,328.30 L148.90,328.32 L149.40,328.34 L149.90,328.36 L150.40,328.37 L150.90,328.39 L151.40,328.41 L151.90,328.43 L152.40,328.45 L152.90,328.47 L153.40,328.49 L153.90,328.51 L154.40,328.53 L154.90,328.55 L155.40,328.57 L155.90,328.59 L156.40,328.61 L156.90,328.62 L157.40,328.64 L157.90,328.66 L158.40,328.68 L158.90,328.70 L159.40,328.72 L159.90,328.74 L160.40,328.76 L160.90,328.78 L161.40,328.80 L161.90,328.82 L162.40,328.84 L162.90,328.86 L163.40,328.87 L163.90,328.89 L164.40,328.91 L164.90,328.93 L165.40,328.95 L165.90,328.97 L166.40,328.99 L166.90,329.01 L167.40,329.03 L167.90,329.05 L168.40,329.07 L168.90,329.09 L169.40,329.11 L169.90,329.13 L170.40,329.14 L170.90,329.16 L171.40,329.18 L171.90,329.20 L172.40,329.22 L172.90,329.24 L173.40,329.26 L173.90,329.28 L174.40,329.30 L174.90,329.32 L175.40,329.34 L175.90,329.36 L176.40,329.38 L176.90,329.39 L177.40,329.41 L177.90,329.43 L178.40,329.45 L178.90,329.47 L179.40,329.49 L179.90,329.51 L180.40,329.53 L180.90,329.55 L181.40,329.57 L181.90,329.59 L182.40,329.61 L182.90,329.63 L183.40,329.64 L183.90,329.66 L184.40,329.68 L184.90,329.70 L185.40,329.72 L185.90,329.74 L186.40,329.76 L186.90,329.78 L187.40,329.80 L187.90,329.82 L188.40,329.84 L188.90,329.86 L189.40,329.88 L189.90,329.90 L190.40,329.91 L190.90,329.93 L191.40,329.95 L191.90,329.97 L192.40,329.99 L192.90,330.01 L193.40,330.03 L193.90,330.05 L194.40,330.07 L194.90,330.09 L195.40,330.11 L195.90,330.13 L196.40,330.15 L196.90,330.16 L197.40,330.18 L197.90,330.20 L198.40,330.22 L198.90,330.24 L199.40,330.26 L199.90,330.28 L200.40,330.30 L200.90,330.32 L201.40,330.34 L201.90,330.36 L202.40,330.38 L202.90,330.40 L203.40,330.41 L203.90,330.43 L204.40,330.45 L204.90,330.47 L205.40,330.49 L205.90,330.51 L206.40,330.53 L206.90,330.55 L207.40,330.57 L207.90,330.59 L208.40,330.61 L208.90,330.63 L209.30,330.64" fill="none" stroke="#0000ff" stroke-width="1.5" stroke-linejoin="round" stroke-linecap="round" />
<path d="M16.90,322.83 L17.40,322.84 L17.90,322.86 L18.40,322.88 L18.90,322.89 L19.40,322.91 L19.90,322.92 L20.40,322.94 L20.90,322.95 L21.40,322.97 L21.90,322.99 L22.40,323.00 L22.90,323.02 L23.40,323.03 L23.90,323.05 L24.40,323.06 L24.90,323.08 L25.40,323.09 L25.90,323.11 L26.40,323.12 L26.90,323.14 L27.40,323.15 L27.90,323.17 L28.40,323.18 L28.90,323.20 L29.40,323.21 L29.90,323.23 L30.40,323.24 L30.90,323.26 L31.40,323.27 L31.90,323.29 L32.40,323.30 L32.90,323.31 L33.40,323.33 L33.90,323.34 L34.40,323.36 L34.90,323.37 L35.40,323.39 L35.90,323.40 L36.40,323.41 L36.90,323.43 L37.40,323.44 L37.90,323.45 L38.40,323.47 L38.90,323.48 L39.40,323.50 L39.90,323.51 L40.40,323.52 L40.90,323.53 L41.40,323.55 L41.90,323.56 L42.40,323.57 L42.90,323.59 L43.40,323.60 L43.90,323.61 L44.40,323.62 L44.90,323.64 L45.40,323.65 L45.90,323.66 L46.40,323.67 L46.90,323.68 L47.40,323.70 L47.90,323.71 L48.40,323.72 L48.90,323.73 L49.40,323.74 L49.90,323.75 L50.40,323.76 L50.90,323.78 L51.40,323.79 L51.90,323.80 L52.40,323.81 L52.90,323.82 L53.40,323.83 L53.90,323.84 L54.40,323.85 L54.90,323.86 L55.40,323.87 L55.90,323.88 L56.40,323.89 L56.90,323.89 L57.40,323.90 L57.90,323.91 L58.40,323.92 L58.90,323.93 L59.40,323.94 L59.90,323.94 L60.40,323.95 L60.90,323.96 L61.40,323.97 L61.90,323.97 L62.40,323.98 L62.90,323.99 L63.40,323.99 L63.90,324.00 L64.40,324.01 L64.90,324.01 L65.40,324.02 L65.90,324.02 L66.40,324.03 L66.90,324.03 L67.40,324.03 L67.90,324.04 L68.40,324.04 L68.90,324.05 L69.40,324.05 L69.90,324.05 L70.40,324.05 L70.90,324.05 L71.40,324.06 L71.90,324.06 L72.40,324.06 L72.90,324.06 L73.40,324.06 L73.90,324.06 L74.40,324.06 L74.90,324.05 L75.40,324.05 L75.90,324.05 L76.40,324.05 L76.90,324.04 L77.40,324.04 L77.90,324.04 L78.40,324.03 L78.90,324.03 L79.40,324.02 L79.90,324.01 L80.40,324.01 L80.90,324.00 L81.40,323.99 L81.90,323.98 L82.40,323.97 L82.90,323.96 L83.40,323.95 L83.90,323.93 L84.40,323.92 L84.90,323.91 L85.40,323.89 L85.90,323.88 L86.40,323.86 L86.90,323.84 L87.40,323.82 L87.90,323.80 L88.40,323.78 L88.90,323.76 L89.40,323.74 L89.90,323.71 L90.40,323.69 L90.90,323.66 L91.40,323.63 L91.90,323.60 L92.40,323.57 L92.90,323.54 L93.40,323.51 L93.90,323.47 L94.40,323.44 L94.90,323.40 L95.40,323.36 L95.90,323.31 L96.40,323.27 L96.90,323.22 L97.40,323.17 L97.90,323.12 L98.40,323.07 L98.90,323.01 L99.40,322.95 L99.90,322.89 L100.40,322.83 L100.90,322.76 L101.40,322.69 L101.90,322.62 L102.40,322.54 L102.90,322.46 L103.40,322.38 L103.90,322.29 L104.40,322.20 L104.90,322.11 L105.40,322.01 L105.90,321.90 L106.40,321.79 L106.90,321.67 L107.40,321.55 L107.90,321.43 L108.40,321.29 L108.90,321.15 L109.40,321.00 L109.90,320.85 L110.40,320.68 L110.90,320.51 L111.40,320.33 L111.90,320.13 L112.40,319.93 L112.90,319.71 L113.40,319.48 L113.90,319.23 L114.40,318.97 L114.90,318.69 L115.40,318.39 L115.90,318.06 L116.40,317.71 L116.90,317.33 L117.40,316.93 L117.90,316.49 L118.40,316.01 L118.90,315.49 L119.40,314.92 L119.90,314.31 L120.40,313.64 L120.90,312.91 L121.40,312.11 L121.90,311.24 L122.40,310.28 L122.90,309.25 L123.40,308.11 L123.90,306.88 L124.40,305.54 L124.90,304.08 L125.40,302.49 L125.90,300.78 L126.40,298.92 L126.90,296.92 L127.40,294.77 L127.90,292.46 L128.40,289.98 L128.90,287.34 L129.40,284.53 L129.90,281.55 L130.40,278.39 L130.90,275.07 L131.40,271.58 L131.90,267.94 L132.40,264.14 L132.90,260.21 L133.40,256.16 L133.90,252.01 L134.40,247.78 L134.90,243.51 L135.40,239.24 L135.90,235.00 L136.40,230.84 L136.90,226.82 L137.40,223.00 L137.90,219.45 L138.40,216.23 L138.90,213.41 L139.40,211.06 L139.90,209.23 L140.40,207.98 L140.90,207.33 L141.40,207.31 L141.90,207.93 L142.40,209.15 L142.90,210.95 L143.40,213.28 L143.90,216.09 L144.40,219.30 L144.90,222.86 L145.40,226.69 L145.90,230.73 L146.40,234.91 L146.90,239.18 L147.40,243.50 L147.90,247.81 L148.40,252.08 L148.90,256.28 L149.40,260.38 L149.90,264.36 L150.40,268.21 L150.90,271.91 L151.40,275.46 L151.90,278.84 L152.40,282.05 L152.90,285.09 L153.40,287.96 L153.90,290.66 L154.40,293.19 L154.90,295.56 L155.40,297.77 L155.90,299.83 L156.40,301.74 L156.90,303.51 L157.40,305.15 L157.90,306.66 L158.40,308.06 L158.90,309.34 L159.40,310.52 L159.90,311.61 L160.40,312.61 L160.90,313.53 L161.40,314.37 L161.90,315.15 L162.40,315.87 L162.90,316.53 L163.40,317.14 L163.90,317.70 L164.40,318.22 L164.90,318.70 L165.40,319.15 L165.90,319.57 L166.40,319.96 L166.90,320.33 L167.40,320.67 L167.90,321.00 L168.40,321.30 L168.90,321.59 L169.40,321.86 L169.90,322.12 L170.40,322.36 L170.90,322.60 L171.40,322.82 L171.90,323.03 L172.40,323.23 L172.90,323.43 L173.40,323.62 L173.90,323.80 L174.40,323.97 L174.90,324.14 L175.40,324.30 L175.90,324.45 L176.40,324.60 L176.90,324.74 L177.40,324.88 L177.90,325.02 L178.40,325.15 L178.90,325.27 L179.40,325.40 L179.90,325.52 L180.40,325.63 L180.90,325.74 L181.40,325.85 L181.90,325.96 L182.40,326.06 L182.90,326.16 L183.40,326.26 L183.90,326.35 L184.40,326.44 L184.90,326.53 L185.40,326.62 L185.90,326.71 L186.40,326.79 L186.90,326.87 L187.40,326.95 L187.90,327.03 L188.40,327.10 L188.90,327.18 L189.40,327.25 L189.90,327.32 L190.40,327.39 L190.90,327.46 L191.40,327.53 L191.90,327.59 L192.40,327.66 L192.90,327.72 L193.40,327.78 L193.90,327.84 L194.40,327.90 L194.90,327.96 L195.40,328.02 L195.90,328.07 L196.40,328.13 L196.90,328.18 L197.40,328.23 L197.90,328.29 L198.40,328.34 L198.90,328.39 L199.40,328.44 L199.90,328.49 L200.40,328.54 L200.90,328.59 L201.40,328.63 L201.90,328.68 L202.40,328.73 L202.90,328.77 L203.40,328.82 L203.90,328.86 L204.40,328.90 L204.90,328.95 L205.40,328.99 L205.90,329.03 L206.40,329.07 L206.90,329.11 L207.40,329.15 L207.90,329.19 L208.40,329.23 L208.90,329.27 L209.30,329.30" fill="none" stroke="#0a9696" stroke-width="1.5" stroke-linejoin="round" stroke-linecap="round" />
<path d="M16.90,321.94 L17.40,321.94 L17.90,321.94 L18.40,321.94 L18.90,321.94 L19.40,321.94 L19.90,321.94 L20.40,321.93 L20.90,321.93 L21.40,321.93 L21.90,321.92 L22.40,321.92 L22.90,321.91 L23.40,321.91 L23.90,321.90 L24.40,321.89 L24.90,321.88 L25.40,321.88 L25.90,321.87 L26.40,321.86 L26.90,321.85 L27.40,321.84 L27.90,321.82 L28.40,321.81 L28.90,321.80 L29.40,321.78 L29.90,321.77 L30.40,321.75 L30.90,321.73 L31.40,321.71 L31.90,321.69 L32.40,321.67 L32.90,321.65 L33.40,321.63 L33.90,321.60 L34.40,321.58 L34.90,321.55 L35.40,321.52 L35.90,321.50 L36.40,321.46 L36.90,321.43 L37.40,321.40 L37.90,321.36 L38.40,321.33 L38.90,321.29 L39.40,321.25 L39.90,321.20 L40.40,321.16 L40.90,321.11 L41.40,321.06 L41.90,321.01 L42.40,320.96 L42.90,320.90 L43.40,320.84 L43.90,320.78 L44.40,320.71 L44.90,320.65 L45.40,320.57 L45.90,320.50 L46.40,320.42 L46.90,320.34 L47.40,320.25 L47.90,320.16 L48.40,320.06 L48.90,319.96 L49.40,319.86 L49.90,319.75 L50.40,319.63 L50.90,319.50 L51.40,319.37 L51.90,319.23 L52.40,319.08 L52.90,318.92 L53.40,318.76 L53.90,318.58 L54.40,318.39 L54.90,318.18 L55.40,317.97 L55.90,317.73 L56.40,317.48 L56.90,317.22 L57.40,316.93 L57.90,316.62 L58.40,316.29 L58.90,315.93 L59.40,315.55 L59.90,315.14 L60.40,314.69 L60.90,314.21 L61.40,313.70 L61.90,313.14 L62.40,312.55 L62.90,311.90 L63.40,311.21 L63.90,310.47 L64.40,309.68 L64.90,308.83 L65.40,307.92 L65.90,306.95 L66.40,305.92 L66.90,304.81 L67.40,303.64 L67.90,302.40 L68.40,301.08 L68.90,299.68 L69.40,298.21 L69.90,296.67 L70.40,295.04 L70.90,293.34 L71.40,291.55 L71.90,289.70 L72.40,287.77 L72.90,285.77 L73.40,283.70 L73.90,281.57 L74.40,279.39 L74.90,277.16 L75.40,274.90 L75.90,272.61 L76.40,270.31 L76.90,268.01 L77.40,265.73 L77.90,263.50 L78.40,261.33 L78.90,259.24 L79.40,257.27 L79.90,255.44 L80.40,253.77 L80.90,252.30 L81.40,251.05 L81.90,250.04 L82.40,249.30 L82.90,248.83 L83.40,248.65 L83.90,248.75 L84.40,249.15 L84.90,249.84 L85.40,250.79 L85.90,251.99 L86.40,253.41 L86.90,255.05 L87.40,256.86 L87.90,258.82 L88.40,260.90 L88.90,263.08 L89.40,265.33 L89.90,267.63 L90.40,269.96 L90.90,272.30 L91.40,274.64 L91.90,276.95 L92.40,279.23 L92.90,281.47 L93.40,283.66 L93.90,285.79 L94.40,287.85 L94.90,289.85 L95.40,291.77 L95.90,293.62 L96.40,295.39 L96.90,297.09 L97.40,298.71 L97.90,300.24 L98.40,301.71 L98.90,303.09 L99.40,304.40 L99.90,305.64 L100.40,306.81 L100.90,307.91 L101.40,308.94 L101.90,309.91 L102.40,310.82 L102.90,311.67 L103.40,312.47 L103.90,313.22 L104.40,313.92 L104.90,314.57 L105.40,315.18 L105.90,315.75 L106.40,316.28 L106.90,316.77 L107.40,317.24 L107.90,317.67 L108.40,318.07 L108.90,318.45 L109.40,318.81 L109.90,319.14 L110.40,319.46 L110.90,319.75 L111.40,320.03 L111.90,320.29 L112.40,320.54 L112.90,320.77 L113.40,320.99 L113.90,321.20 L114.40,321.40 L114.90,321.59 L115.40,321.77 L115.90,321.95 L116.40,322.11 L116.90,322.27 L117.40,322.43 L117.90,322.57 L118.40,322.71 L118.90,322.85 L119.40,322.98 L119.90,323.11 L120.40,323.23 L120.90,323.35 L121.40,323.46 L121.90,323.58 L122.40,323.68 L122.90,323.79 L123.40,323.89 L123.90,323.99 L124.40,324.08 L124.90,324.18 L125.40,324.27 L125.90,324.36 L126.40,324.44 L126.90,324.53 L127.40,324.61 L127.90,324.69 L128.40,324.77 L128.90,324.84 L129.40,324.92 L129.90,324.99 L130.40,325.06 L130.90,325.13 L131.40,325.20 L131.90,325.27 L132.40,325.34 L132.90,325.40 L133.40,325.46 L133.90,325.52 L134.40,325.59 L134.90,325.64 L135.40,325.70 L135.90,325.76 L136.40,325.82 L136.90,325.87 L137.40,325.93 L137.90,325.98 L138.40,326.03 L138.90,326.08 L139.40,326.14 L139.90,326.19 L140.40,326.23 L140.90,326.28 L141.40,326.33 L141.90,326.38 L142.40,326.43 L142.90,326.47 L143.40,326.52 L143.90,326.56 L144.40,326.60 L144.90,326.65 L145.40,326.69 L145.90,326.73 L146.40,326.78 L146.90,326.82 L147.40,326.86 L147.90,326.90 L148.40,326.94 L148.90,326.98 L149.40,327.02 L149.90,327.05 L150.40,327.09 L150.90,327.13 L151.40,327.17 L151.90,327.20 L152.40,327.24 L152.90,327.28 L153.40,327.31 L153.90,327.35 L154.40,327.38 L154.90,327.42 L155.40,327.45 L155.90,327.49 L156.40,327.52 L156.90,327.56 L157.40,327.59 L157.90,327.62 L158.40,327.65 L158.90,327.69 L159.40,327.72 L159.90,327.75 L160.40,327.78 L160.90,327.81 L161.40,327.85 L161.90,327.88 L162.40,327.91 L162.90,327.94 L163.40,327.97 L163.90,328.00 L164.40,328.03 L164.90,328.06 L165.40,328.09 L165.90,328.12 L166.40,328.15 L166.90,328.18 L167.40,328.21 L167.90,328.24 L168.40,328.26 L168.90,328.29 L169.40,328.32 L169.90,328.35 L170.40,328.38 L170.90,328.40 L171.40,328.43 L171.90,328.46 L172.40,328.49 L172.90,328.51 L173.40,328.54 L173.90,328.57 L174.40,328.60 L174.90,328.62 L175.40,328.65 L175.90,328.68 L176.40,328.70 L176.90,328.73 L177.40,328.75 L177.90,328.78 L178.40,328.81 L178.90,328.83 L179.40,328.86 L179.90,328.88 L180.40,328.91 L180.90,328.94 L181.40,328.96 L181.90,328.99 L182.40,329.01 L182.90,329.04 L183.40,329.06 L183.90,329.09 L184.40,329.11 L184.90,329.14 L185.40,329.16 L185.90,329.19 L186.40,329.21 L186.90,329.23 L187.40,329.26 L187.90,329.28 L188.40,329.31 L188.90,329.33 L189.40,329.36 L189.90,329.38 L190.40,329.40 L190.90,329.43 L191.40,329.45 L191.90,329.48 L192.40,329.50 L192.90,329.52 L193.40,329.55 L193.90,329.57 L194.40,329.59 L194.90,329.62 L195.40,329.64 L195.90,329.66 L196.40,329.69 L196.90,329.71 L197.40,329.73 L197.90,329.76 L198.40,329.78 L198.90,329.80 L199.40,329.83 L199.90,329.85 L200.40,329.87 L200.90,329.90 L201.40,329.92 L201.90,329.94 L202.40,329.96 L202.90,329.99 L203.40,330.01 L203.90,330.03 L204.40,330.05 L204.90,330.08 L205.40,330.10 L205.90,330.12 L206.40,330.14 L206.90,330.17 L207.40,330.19 L207.90,330.21 L208.40,330.23 L208.90,330.26 L209.30,330.27" fill="none" stroke="#8c8c14" stroke-width="1.5" stroke-linejoin="round" stroke-linecap="round" />
<path d="M16.90,321.95 L17.40,321.96 L17.90,321.96 L18.40,321.97 L18.90,321.97 L19.40,321.98 L19.90,321.98 L20.40,321.99 L20.90,321.99 L21.40,321.99 L21.90,321.99 L22.40,322.00 L22.90,322.00 L23.40,322.00 L23.90,322.00 L24.40,322.01 L24.90,322.01 L25.40,322.01 L25.90,322.01 L26.40,322.01 L26.90,322.01 L27.40,322.01 L27.90,322.01 L28.40,322.01 L28.90,322.00 L29.40,322.00 L29.90,322.00 L30.40,322.00 L30.90,321.99 L31.40,321.99 L31.90,321.99 L32.40,321.98 L32.90,321.98 L33.40,321.97 L33.90,321.96 L34.40,321.96 L34.90,321.95 L35.40,321.94 L35.90,321.94 L36.40,321.93 L36.90,321.92 L37.40,321.91 L37.90,321.90 L38.40,321.89 L38.90,321.87 L39.40,321.86 L39.90,321.85 L40.40,321.84 L40.90,321.82 L41.40,321.81 L41.90,321.79 L42.40,321.77 L42.90,321.76 L43.40,321.74 L43.90,321.72 L44.40,321.70 L44.90,321.68 L45.40,321.66 L45.90,321.63 L46.40,321.61 L46.90,321.58 L47.40,321.56 L47.90,321.53 L48.40,321.50 L48.90,321.47 L49.40,321.44 L49.90,321.41 L50.40,321.38 L50.90,321.34 L51.40,321.31 L51.90,321.27 L52.40,321.23 L52.90,321.19 L53.40,321.15 L53.90,321.11 L54.40,321.06 L54.90,321.02 L55.40,320.97 L55.90,320.92 L56.40,320.87 L56.90,320.81 L57.40,320.76 L57.90,320.70 L58.40,320.64 L58.90,320.58 L59.40,320.51 L59.90,320.44 L60.40,320.37 L60.90,320.30 L61.40,320.22 L61.90,320.15 L62.40,320.06 L62.90,319.98 L63.40,319.89 L63.90,319.80 L64.40,319.71 L64.90,319.61 L65.40,319.50 L65.90,319.40 L66.40,319.29 L66.90,319.17 L67.40,319.05 L67.90,318.92 L68.40,318.79 L68.90,318.66 L69.40,318.52 L69.90,318.37 L70.40,318.21 L70.90,318.05 L71.40,317.88 L71.90,317.70 L72.40,317.52 L72.90,317.32 L73.40,317.12 L73.90,316.90 L74.40,316.68 L74.90,316.44 L75.40,316.19 L75.90,315.93 L76.40,315.65 L76.90,315.36 L77.40,315.05 L77.90,314.72 L78.40,314.37 L78.90,314.00 L79.40,313.61 L79.90,313.20 L80.40,312.76 L80.90,312.29 L81.40,311.79 L81.90,311.26 L82.40,310.69 L82.90,310.09 L83.40,309.45 L83.90,308.77 L84.40,308.04 L84.90,307.26 L85.40,306.43 L85.90,305.55 L86.40,304.62 L86.90,303.62 L87.40,302.56 L87.90,301.44 L88.40,300.24 L88.90,298.97 L89.40,297.63 L89.90,296.21 L90.40,294.71 L90.90,293.12 L91.40,291.45 L91.90,289.69 L92.40,287.83 L92.90,285.89 L93.40,283.85 L93.90,281.72 L94.40,279.49 L94.90,277.17 L95.40,274.76 L95.90,272.25 L96.40,269.66 L96.90,266.98 L97.40,264.23 L97.90,261.40 L98.40,258.51 L98.90,255.56 L99.40,252.58 L99.90,249.57 L100.40,246.56 L100.90,243.55 L101.40,240.58 L101.90,237.67 L102.40,234.85 L102.90,232.14 L103.40,229.58 L103.90,227.21 L104.40,225.04 L104.90,223.13 L105.40,221.50 L105.90,220.17 L106.40,219.17 L106.90,218.52 L107.40,218.23 L107.90,218.31 L108.40,218.75 L108.90,219.55 L109.40,220.70 L109.90,222.17 L110.40,223.93 L110.90,225.97 L111.40,228.24 L111.90,230.72 L112.40,233.36 L112.90,236.15 L113.40,239.04 L113.90,242.01 L114.40,245.04 L114.90,248.09 L115.40,251.14 L115.90,254.18 L116.40,257.19 L116.90,260.16 L117.40,263.07 L117.90,265.91 L118.40,268.68 L118.90,271.37 L119.40,273.97 L119.90,276.49 L120.40,278.91 L120.90,281.24 L121.40,283.48 L121.90,285.62 L122.40,287.66 L122.90,289.62 L123.40,291.48 L123.90,293.25 L124.40,294.93 L124.90,296.53 L125.40,298.05 L125.90,299.48 L126.40,300.84 L126.90,302.12 L127.40,303.33 L127.90,304.47 L128.40,305.55 L128.90,306.57 L129.40,307.52 L129.90,308.42 L130.40,309.27 L130.90,310.07 L131.40,310.82 L131.90,311.53 L132.40,312.20 L132.90,312.83 L133.40,313.42 L133.90,313.98 L134.40,314.51 L134.90,315.01 L135.40,315.48 L135.90,315.92 L136.40,316.34 L136.90,316.74 L137.40,317.12 L137.90,317.48 L138.40,317.83 L138.90,318.15 L139.40,318.47 L139.90,318.76 L140.40,319.05 L140.90,319.32 L141.40,319.58 L141.90,319.83 L142.40,320.07 L142.90,320.30 L143.40,320.52 L143.90,320.73 L144.40,320.94 L144.90,321.14 L145.40,321.33 L145.90,321.51 L146.40,321.69 L146.90,321.86 L147.40,322.03 L147.90,322.19 L148.40,322.35 L148.90,322.50 L149.40,322.65 L149.90,322.80 L150.40,322.94 L150.90,323.07 L151.40,323.21 L151.90,323.33 L152.40,323.46 L152.90,323.58 L153.40,323.70 L153.90,323.82 L154.40,323.93 L154.90,324.04 L155.40,324.15 L155.90,324.25 L156.40,324.36 L156.90,324.46 L157.40,324.56 L157.90,324.65 L158.40,324.74 L158.90,324.84 L159.40,324.93 L159.90,325.01 L160.40,325.10 L160.90,325.19 L161.40,325.27 L161.90,325.35 L162.40,325.43 L162.90,325.51 L163.40,325.58 L163.90,325.66 L164.40,325.73 L164.90,325.80 L165.40,325.88 L165.90,325.94 L166.40,326.01 L166.90,326.08 L167.40,326.15 L167.90,326.21 L168.40,326.28 L168.90,326.34 L169.40,326.40 L169.90,326.46 L170.40,326.52 L170.90,326.58 L171.40,326.64 L171.90,326.70 L172.40,326.75 L172.90,326.81 L173.40,326.86 L173.90,326.92 L174.40,326.97 L174.90,327.02 L175.40,327.08 L175.90,327.13 L176.40,327.18 L176.90,327.23 L177.40,327.28 L177.90,327.33 L178.40,327.37 L178.90,327.42 L179.40,327.47 L179.90,327.52 L180.40,327.56 L180.90,327.61 L181.40,327.65 L181.90,327.70 L182.40,327.74 L182.90,327.78 L183.40,327.83 L183.90,327.87 L184.40,327.91 L184.90,327.95 L185.40,327.99 L185.90,328.03 L186.40,328.07 L186.90,328.11 L187.40,328.15 L187.90,328.19 L188.40,328.23 L188.90,328.27 L189.40,328.31 L189.90,328.35 L190.40,328.38 L190.90,328.42 L191.40,328.46 L191.90,328.49 L192.40,328.53 L192.90,328.57 L193.40,328.60 L193.90,328.64 L194.40,328.67 L194.90,328.71 L195.40,328.74 L195.90,328.78 L196.40,328.81 L196.90,328.85 L197.40,328.88 L197.90,328.91 L198.40,328.95 L198.90,328.98 L199.40,329.01 L199.90,329.04 L200.40,329.08 L200.90,329.11 L201.40,329.14 L201.90,329.17 L202.40,329.20 L202.90,329.23 L203.40,329.27 L203.90,329.30 L204.40,329.33 L204.90,329.36 L205.40,329.39 L205.90,329.42 L206.40,329.45 L206.90,329.48 L207.40,329.51 L207.90,329.54 L208.40,329.57 L208.90,329.60 L209.30,329.62" fill="none" stroke="#ff00ff" stroke-width="1.5" stroke-linejoin="round" stroke-linecap="round" />
<path d="M16.90,320.20 L17.40,320.18 L17.90,320.16 L18.40,320.14 L18.90,320.12 L19.40,320.10 L19.90,320.08 L20.40,320.05 L20.90,320.03 L21.40,320.00 L21.90,319.98 L22.40,319.95 L22.90,319.92 L23.40,319.90 L23.90,319.87 L24.40,319.84 L24.90,319.80 L25.40,319.77 L25.90,319.74 L26.40,319.70 L26.90,319.67 L27.40,319.63 L27.90,319.59 L28.40,319.55 L28.90,319.51 L29.40,319.47 L29.90,319.42 L30.40,319.38 L30.90,319.33 L31.40,319.28 L31.90,319.23 L32.40,319.18 L32.90,319.12 L33.40,319.07 L33.90,319.01 L34.40,318.95 L34.90,318.89 L35.40,318.82 L35.90,318.76 L36.40,318.69 L36.90,318.62 L37.40,318.55 L37.90,318.47 L38.40,318.39 L38.90,318.31 L39.40,318.23 L39.90,318.15 L40.40,318.06 L40.90,317.96 L41.40,317.87 L41.90,317.77 L42.40,317.67 L42.90,317.56 L43.40,317.45 L43.90,317.34 L44.40,317.22 L44.90,317.10 L45.40,316.97 L45.90,316.84 L46.40,316.70 L46.90,316.56 L47.40,316.41 L47.90,316.26 L48.40,316.10 L48.90,315.93 L49.40,315.76 L49.90,315.57 L50.40,315.38 L50.90,315.19 L51.40,314.98 L51.90,314.76 L52.40,314.53 L52.90,314.29 L53.40,314.04 L53.90,313.77 L54.40,313.49 L54.90,313.20 L55.40,312.89 L55.90,312.56 L56.40,312.21 L56.90,311.84 L57.40,311.45 L57.90,311.03 L58.40,310.59 L58.90,310.12 L59.40,309.62 L59.90,309.09 L60.40,308.53 L60.90,307.93 L61.40,307.29 L61.90,306.61 L62.40,305.88 L62.90,305.11 L63.40,304.29 L63.90,303.41 L64.40,302.48 L64.90,301.49 L65.40,300.45 L65.90,299.33 L66.40,298.15 L66.90,296.90 L67.40,295.58 L67.90,294.19 L68.40,292.72 L68.90,291.17 L69.40,289.54 L69.90,287.84 L70.40,286.05 L70.90,284.17 L71.40,282.22 L71.90,280.19 L72.40,278.07 L72.90,275.88 L73.40,273.62 L73.90,271.28 L74.40,268.88 L74.90,266.43 L75.40,263.92 L75.90,261.38 L76.40,258.80 L76.90,256.22 L77.40,253.64 L77.90,251.08 L78.40,248.56 L78.90,246.10 L79.40,243.73 L79.90,241.47 L80.40,239.35 L80.90,237.39 L81.40,235.61 L81.90,234.04 L82.40,232.69 L82.90,231.58 L83.40,230.71 L83.90,230.09 L84.40,229.71 L84.90,229.57 L85.40,229.64 L85.90,229.92 L86.40,230.37 L86.90,230.96 L87.40,231.68 L87.90,232.48 L88.40,233.34 L88.90,234.24 L89.40,235.13 L89.90,235.99 L90.40,236.81 L90.90,237.55 L91.40,238.20 L91.90,238.74 L92.40,239.15 L92.90,239.43 L93.40,239.56 L93.90,239.54 L94.40,239.34 L94.90,238.98 L95.40,238.45 L95.90,237.74 L96.40,236.86 L96.90,235.80 L97.40,234.58 L97.90,233.19 L98.40,231.66 L98.90,229.97 L99.40,228.16 L99.90,226.24 L100.40,224.22 L100.90,222.14 L101.40,220.01 L101.90,217.86 L102.40,215.73 L102.90,213.66 L103.40,211.67 L103.90,209.82 L104.40,208.14 L104.90,206.67 L105.40,205.45 L105.90,204.52 L106.40,203.90 L106.90,203.62 L107.40,203.69 L107.90,204.13 L108.40,204.93 L108.90,206.08 L109.40,207.57 L109.90,209.37 L110.40,211.46 L110.90,213.80 L111.40,216.35 L111.90,219.08 L112.40,221.95 L112.90,224.91 L113.40,227.95 L113.90,231.02 L114.40,234.10 L114.90,237.16 L115.40,240.17 L115.90,243.11 L116.40,245.97 L116.90,248.73 L117.40,251.37 L117.90,253.89 L118.40,256.27 L118.90,258.51 L119.40,260.59 L119.90,262.50 L120.40,264.25 L120.90,265.82 L121.40,267.22 L121.90,268.42 L122.40,269.44 L122.90,270.26 L123.40,270.87 L123.90,271.29 L124.40,271.49 L124.90,271.49 L125.40,271.27 L125.90,270.83 L126.40,270.17 L126.90,269.29 L127.40,268.18 L127.90,266.86 L128.40,265.31 L128.90,263.55 L129.40,261.57 L129.90,259.38 L130.40,256.99 L130.90,254.40 L131.40,251.63 L131.90,248.68 L132.40,245.58 L132.90,242.33 L133.40,238.96 L133.90,235.50 L134.40,231.96 L134.90,228.38 L135.40,224.79 L135.90,221.24 L136.40,217.75 L136.90,214.39 L137.40,211.19 L137.90,208.22 L138.40,205.52 L138.90,203.14 L139.40,201.15 L139.90,199.59 L140.40,198.49 L140.90,197.89 L141.40,197.81 L141.90,198.27 L142.40,199.25 L142.90,200.73 L143.40,202.71 L143.90,205.12 L144.40,207.94 L144.90,211.11 L145.40,214.58 L145.90,218.30 L146.40,222.22 L146.90,226.28 L147.40,230.45 L147.90,234.68 L148.40,238.93 L148.90,243.17 L149.40,247.37 L149.90,251.51 L150.40,255.57 L150.90,259.52 L151.40,263.35 L151.90,267.05 L152.40,270.61 L152.90,274.02 L153.40,277.28 L153.90,280.37 L154.40,283.31 L154.90,286.09 L155.40,288.71 L155.90,291.17 L156.40,293.47 L156.90,295.63 L157.40,297.64 L157.90,299.51 L158.40,301.25 L158.90,302.87 L159.40,304.36 L159.90,305.74 L160.40,307.02 L160.90,308.19 L161.40,309.28 L161.90,310.28 L162.40,311.20 L162.90,312.05 L163.40,312.83 L163.90,313.55 L164.40,314.22 L164.90,314.83 L165.40,315.40 L165.90,315.93 L166.40,316.42 L166.90,316.88 L167.40,317.31 L167.90,317.71 L168.40,318.08 L168.90,318.44 L169.40,318.77 L169.90,319.08 L170.40,319.38 L170.90,319.66 L171.40,319.93 L171.90,320.19 L172.40,320.43 L172.90,320.67 L173.40,320.89 L173.90,321.11 L174.40,321.32 L174.90,321.52 L175.40,321.71 L175.90,321.89 L176.40,322.08 L176.90,322.25 L177.40,322.42 L177.90,322.58 L178.40,322.74 L178.90,322.89 L179.40,323.04 L179.90,323.19 L180.40,323.33 L180.90,323.47 L181.40,323.60 L181.90,323.73 L182.40,323.86 L182.90,323.99 L183.40,324.11 L183.90,324.22 L184.40,324.34 L184.90,324.45 L185.40,324.56 L185.90,324.67 L186.40,324.78 L186.90,324.88 L187.40,324.98 L187.90,325.08 L188.40,325.17 L188.90,325.27 L189.40,325.36 L189.90,325.45 L190.40,325.54 L190.90,325.63 L191.40,325.71 L191.90,325.80 L192.40,325.88 L192.90,325.96 L193.40,326.04 L193.90,326.12 L194.40,326.19 L194.90,326.27 L195.40,326.34 L195.90,326.42 L196.40,326.49 L196.90,326.56 L197.40,326.63 L197.90,326.70 L198.40,326.76 L198.90,326.83 L199.40,326.89 L199.90,326.96 L200.40,327.02 L200.90,327.08 L201.40,327.14 L201.90,327.21 L202.40,327.26 L202.90,327.32 L203.40,327.38 L203.90,327.44 L204.40,327.50 L204.90,327.55 L205.40,327.61 L205.90,327.66 L206.40,327.71 L206.90,327.77 L207.40,327.82 L207.90,327.87 L208.40,327.92 L208.90,327.97 L209.30,328.01" fill="none" stroke="#ff0000" stroke-width="1.6" stroke-linejoin="round" stroke-linecap="round" />
<rect x="16.30" y="186.70" width="193.70" height="151.10" fill="none" stroke="#000" stroke-width="1.5"/>
<line x1="210.00" y1="337.80" x2="210.00" y2="341.00" stroke="#000" stroke-width="1.3"/>
<text transform="translate(210.00,349.70) scale(1,1.05)" font-size="8.2" text-anchor="middle" >526</text>
<line x1="192.39" y1="337.80" x2="192.39" y2="340.00" stroke="#000" stroke-width="1.3"/>
<line x1="174.78" y1="337.80" x2="174.78" y2="341.00" stroke="#000" stroke-width="1.3"/>
<text transform="translate(174.78,349.70) scale(1,1.05)" font-size="8.2" text-anchor="middle" >528</text>
<line x1="157.17" y1="337.80" x2="157.17" y2="340.00" stroke="#000" stroke-width="1.3"/>
<line x1="139.56" y1="337.80" x2="139.56" y2="341.00" stroke="#000" stroke-width="1.3"/>
<text transform="translate(139.56,349.70) scale(1,1.05)" font-size="8.2" text-anchor="middle" >530</text>
<line x1="121.95" y1="337.80" x2="121.95" y2="340.00" stroke="#000" stroke-width="1.3"/>
<line x1="104.35" y1="337.80" x2="104.35" y2="341.00" stroke="#000" stroke-width="1.3"/>
<text transform="translate(104.35,349.70) scale(1,1.05)" font-size="8.2" text-anchor="middle" >532</text>
<line x1="86.74" y1="337.80" x2="86.74" y2="340.00" stroke="#000" stroke-width="1.3"/>
<line x1="69.13" y1="337.80" x2="69.13" y2="341.00" stroke="#000" stroke-width="1.3"/>
<text transform="translate(69.13,349.70) scale(1,1.05)" font-size="8.2" text-anchor="middle" >534</text>
<line x1="51.52" y1="337.80" x2="51.52" y2="340.00" stroke="#000" stroke-width="1.3"/>
<line x1="33.91" y1="337.80" x2="33.91" y2="341.00" stroke="#000" stroke-width="1.3"/>
<text transform="translate(33.91,349.70) scale(1,1.05)" font-size="8.2" text-anchor="middle" >536</text>
<line x1="16.30" y1="337.80" x2="16.30" y2="340.00" stroke="#000" stroke-width="1.3"/>
<text transform="translate(31.70,201.80) scale(1,1.15)" font-size="11" text-anchor="middle" >O<tspan font-size="7.5">1s</tspan></text>
<text transform="translate(198.00,204.00) scale(1,1.1)" font-size="14.5" text-anchor="middle" >c</text>
<text transform="translate(61.80,260.50) scale(1,1.03)" font-size="8.8" text-anchor="middle" >O<tspan font-size="7">c</tspan></text>
<text transform="translate(124.40,225.60) scale(1,1.03)" font-size="8.8" text-anchor="middle" >O<tspan font-size="7">v</tspan></text>
<text transform="translate(179.70,259.50) scale(1,1.03)" font-size="8.45" text-anchor="middle" >Ti-O-Ti</text>
<line x1="80.60" y1="280.90" x2="67.29" y2="265.05" stroke="#000" stroke-width="1.3"/>
<polygon points="64.40,261.60 69.47,264.53 66.40,267.10" fill="#000"/>
<line x1="107.40" y1="251.40" x2="119.90" y2="231.51" stroke="#000" stroke-width="1.3"/>
<polygon points="122.30,227.70 121.07,233.42 117.68,231.29" fill="#000"/>
<line x1="145.90" y1="272.60" x2="160.49" y2="263.40" stroke="#000" stroke-width="1.3"/>
<polygon points="164.30,261.00 160.71,265.63 158.58,262.24" fill="#000"/>
<text transform="translate(13.70,260.90) rotate(-90) scale(1,1.08)" font-size="11.5" text-anchor="middle">Intensity(a.u.)</text>
<text transform="translate(118.15,359.70) scale(1,1.08)" font-size="11" text-anchor="middle" >Binding Energy/eV</text>
<path d="M257.10,322.47 L258.10,322.58 L259.10,322.86 L260.10,323.94 L261.10,323.31 L262.10,323.58 L263.10,323.76 L264.10,322.96 L265.10,323.40 L266.10,323.96 L267.10,324.00 L268.10,324.78 L269.10,325.54 L270.10,325.83 L271.10,326.55 L272.10,326.58 L273.10,326.46 L274.10,325.87 L275.10,325.70 L276.10,325.54 L277.10,324.78 L278.10,324.63 L279.10,324.84 L280.10,325.65 L281.10,325.64 L282.10,326.30 L283.10,327.10 L284.10,327.62 L285.10,327.85 L286.10,327.51 L287.10,327.20 L288.10,326.69 L289.10,326.27 L290.10,326.20 L291.10,325.20 L292.10,325.21 L293.10,324.67 L294.10,323.46 L295.10,323.13 L296.10,322.60 L297.10,321.56 L298.10,322.59 L299.10,325.02 L300.10,321.82 L301.10,319.06 L302.10,315.70 L303.10,315.10 L304.10,314.30 L305.10,312.59 L306.10,310.97 L307.10,307.64 L308.10,304.48 L309.10,300.40 L310.10,297.59 L311.10,295.84 L312.10,293.94 L313.10,291.12 L314.10,288.51 L315.10,286.33 L316.10,283.62 L317.10,281.58 L318.10,278.67 L319.10,276.50 L320.10,274.35 L321.10,271.19 L322.10,269.21 L323.10,266.80 L324.10,263.90 L325.10,261.82 L326.10,260.70 L327.10,259.55 L328.10,258.21 L329.10,258.58 L330.10,259.26 L331.10,259.68 L332.10,261.38 L333.10,262.22 L334.10,263.53 L335.10,264.84 L336.10,266.58 L337.10,270.28 L338.10,272.98 L339.10,276.09 L340.10,274.52 L341.10,269.95 L342.10,265.98 L343.10,262.22 L344.10,258.41 L345.10,254.41 L346.10,252.44 L347.10,250.99 L348.10,248.01 L349.10,245.01 L350.10,241.30 L351.10,237.18 L352.10,232.20 L353.10,226.89 L354.10,222.07 L355.10,216.37 L356.10,212.19 L357.10,207.41 L358.10,204.25 L359.10,201.09 L360.10,198.39 L361.10,197.01 L362.10,196.11 L363.10,196.49 L364.10,195.98 L365.10,196.72 L366.10,199.31 L367.10,201.85 L368.10,205.69 L369.10,210.64 L370.10,215.36 L371.10,220.89 L372.10,224.14 L373.10,228.45 L374.10,231.75 L375.10,235.24 L376.10,240.22 L377.10,246.61 L378.10,253.96 L379.10,260.35 L380.10,266.03 L381.10,271.12 L382.10,276.30 L383.10,281.13 L384.10,285.57 L385.10,289.62 L386.10,293.38 L387.10,295.97 L388.10,298.51 L389.10,301.20 L390.10,302.38 L391.10,302.79 L392.10,303.31 L393.10,303.28 L394.10,302.36 L395.10,301.77 L396.10,300.60 L397.10,299.05 L398.10,296.94 L399.10,295.35 L400.10,293.36 L401.10,292.76 L402.10,291.72 L403.10,290.74 L404.10,289.48 L405.10,288.43 L406.10,287.98 L407.10,288.37 L408.10,288.59 L409.10,289.36 L410.10,289.21 L411.10,290.47 L412.10,291.06 L413.10,292.15 L414.10,293.66 L415.10,294.89 L416.10,295.85 L417.10,296.52 L418.10,297.05 L419.10,299.32 L420.10,302.20 L421.10,304.24 L422.10,306.80 L423.10,307.89 L424.10,310.17 L425.10,311.48 L426.10,312.49 L427.10,314.38 L428.10,316.38 L429.10,318.60 L430.10,319.88 L431.10,322.34 L432.10,323.63 L433.10,323.41 L434.10,323.68 L435.10,323.58 L436.10,322.96 L437.10,323.28 L438.10,323.19 L439.10,323.35 L440.10,323.57 L441.10,323.20 L442.10,324.19 L443.10,325.01 L444.10,326.41 L445.10,326.91 L446.10,328.52 L447.10,328.36 L448.10,327.67 L448.70,327.20" fill="none" stroke="#000" stroke-width="1.3" stroke-linejoin="round" stroke-linecap="round" />
<path d="M257.10,322.56 L257.60,322.56 L258.10,322.56 L258.60,322.56 L259.10,322.56 L259.60,322.56 L260.10,322.56 L260.60,322.56 L261.10,322.56 L261.60,322.56 L262.10,322.56 L262.60,322.56 L263.10,322.56 L263.60,322.56 L264.10,322.56 L264.60,322.56 L265.10,322.56 L265.60,322.56 L266.10,322.56 L266.60,322.56 L267.10,322.56 L267.60,322.55 L268.10,322.55 L268.60,322.55 L269.10,322.55 L269.60,322.55 L270.10,322.55 L270.60,322.55 L271.10,322.55 L271.60,322.55 L272.10,322.55 L272.60,322.55 L273.10,322.55 L273.60,322.55 L274.10,322.55 L274.60,322.55 L275.10,322.55 L275.60,322.55 L276.10,322.55 L276.60,322.55 L277.10,322.55 L277.60,322.55 L278.10,322.55 L278.60,322.55 L279.10,322.55 L279.60,322.55 L280.10,322.55 L280.60,322.55 L281.10,322.54 L281.60,322.54 L282.10,322.54 L282.60,322.54 L283.10,322.54 L283.60,322.54 L284.10,322.54 L284.60,322.54 L285.10,322.54 L285.60,322.54 L286.10,322.54 L286.60,322.54 L287.10,322.54 L287.60,322.54 L288.10,322.54 L288.60,322.54 L289.10,322.54 L289.60,322.54 L290.10,322.54 L290.60,322.54 L291.10,322.54 L291.60,322.53 L292.10,322.53 L292.60,322.53 L293.10,322.53 L293.60,322.53 L294.10,322.53 L294.60,322.53 L295.10,322.53 L295.60,322.53 L296.10,322.53 L296.60,322.53 L297.10,322.53 L297.60,322.53 L298.10,322.53 L298.60,322.53 L299.10,322.53 L299.60,322.52 L300.10,322.52 L300.60,322.52 L301.10,322.52 L301.60,322.52 L302.10,322.52 L302.60,322.52 L303.10,322.52 L303.60,322.52 L304.10,322.52 L304.60,322.52 L305.10,322.52 L305.60,322.52 L306.10,322.52 L306.60,322.51 L307.10,322.51 L307.60,322.51 L308.10,322.51 L308.60,322.51 L309.10,322.51 L309.60,322.51 L310.10,322.51 L310.60,322.51 L311.10,322.51 L311.60,322.51 L312.10,322.50 L312.60,322.50 L313.10,322.50 L313.60,322.50 L314.10,322.50 L314.60,322.50 L315.10,322.50 L315.60,322.50 L316.10,322.50 L316.60,322.50 L317.10,322.49 L317.60,322.49 L318.10,322.49 L318.60,322.49 L319.10,322.49 L319.60,322.49 L320.10,322.49 L320.60,322.49 L321.10,322.48 L321.60,322.48 L322.10,322.48 L322.60,322.48 L323.10,322.48 L323.60,322.48 L324.10,322.48 L324.60,322.47 L325.10,322.47 L325.60,322.47 L326.10,322.47 L326.60,322.47 L327.10,322.47 L327.60,322.47 L328.10,322.46 L328.60,322.46 L329.10,322.46 L329.60,322.46 L330.10,322.46 L330.60,322.45 L331.10,322.45 L331.60,322.45 L332.10,322.45 L332.60,322.45 L333.10,322.45 L333.60,322.44 L334.10,322.44 L334.60,322.44 L335.10,322.44 L335.60,322.43 L336.10,322.43 L336.60,322.43 L337.10,322.43 L337.60,322.43 L338.10,322.42 L338.60,322.42 L339.10,322.42 L339.60,322.42 L340.10,322.41 L340.60,322.41 L341.10,322.41 L341.60,322.40 L342.10,322.40 L342.60,322.40 L343.10,322.40 L343.60,322.39 L344.10,322.39 L344.60,322.39 L345.10,322.38 L345.60,322.38 L346.10,322.38 L346.60,322.37 L347.10,322.37 L347.60,322.37 L348.10,322.36 L348.60,322.36 L349.10,322.35 L349.60,322.35 L350.10,322.35 L350.60,322.34 L351.10,322.34 L351.60,322.33 L352.10,322.33 L352.60,322.32 L353.10,322.32 L353.60,322.31 L354.10,322.31 L354.60,322.30 L355.10,322.30 L355.60,322.29 L356.10,322.29 L356.60,322.28 L357.10,322.28 L357.60,322.27 L358.10,322.26 L358.60,322.26 L359.10,322.25 L359.60,322.24 L360.10,322.24 L360.60,322.23 L361.10,322.22 L361.60,322.21 L362.10,322.21 L362.60,322.20 L363.10,322.19 L363.60,322.18 L364.10,322.17 L364.60,322.16 L365.10,322.15 L365.60,322.14 L366.10,322.13 L366.60,322.12 L367.10,322.11 L367.60,322.10 L368.10,322.09 L368.60,322.08 L369.10,322.06 L369.60,322.05 L370.10,322.04 L370.60,322.02 L371.10,322.01 L371.60,321.99 L372.10,321.98 L372.60,321.96 L373.10,321.94 L373.60,321.93 L374.10,321.91 L374.60,321.89 L375.10,321.87 L375.60,321.85 L376.10,321.83 L376.60,321.80 L377.10,321.78 L377.60,321.75 L378.10,321.73 L378.60,321.70 L379.10,321.67 L379.60,321.64 L380.10,321.60 L380.60,321.57 L381.10,321.53 L381.60,321.49 L382.10,321.44 L382.60,321.39 L383.10,321.34 L383.60,321.28 L384.10,321.22 L384.60,321.15 L385.10,321.07 L385.60,320.99 L386.10,320.90 L386.60,320.79 L387.10,320.68 L387.60,320.55 L388.10,320.41 L388.60,320.25 L389.10,320.08 L389.60,319.88 L390.10,319.66 L390.60,319.43 L391.10,319.16 L391.60,318.87 L392.10,318.55 L392.60,318.19 L393.10,317.81 L393.60,317.38 L394.10,316.92 L394.60,316.42 L395.10,315.88 L395.60,315.30 L396.10,314.67 L396.60,314.00 L397.10,313.29 L397.60,312.54 L398.10,311.74 L398.60,310.90 L399.10,310.03 L399.60,309.12 L400.10,308.17 L400.60,307.20 L401.10,306.21 L401.60,305.20 L402.10,304.18 L402.60,303.15 L403.10,302.13 L403.60,301.13 L404.10,300.15 L404.60,299.21 L405.10,298.32 L405.60,297.49 L406.10,296.73 L406.60,296.07 L407.10,295.50 L407.60,295.04 L408.10,294.70 L408.60,294.49 L409.10,294.41 L409.60,294.47 L410.10,294.65 L410.60,294.97 L411.10,295.41 L411.60,295.96 L412.10,296.61 L412.60,297.35 L413.10,298.17 L413.60,299.05 L414.10,299.99 L414.60,300.96 L415.10,301.96 L415.60,302.97 L416.10,304.00 L416.60,305.02 L417.10,306.03 L417.60,307.03 L418.10,308.01 L418.60,308.96 L419.10,309.87 L419.60,310.75 L420.10,311.60 L420.60,312.40 L421.10,313.16 L421.60,313.88 L422.10,314.56 L422.60,315.19 L423.10,315.78 L423.60,316.33 L424.10,316.84 L424.60,317.30 L425.10,317.73 L425.60,318.13 L426.10,318.49 L426.60,318.81 L427.10,319.11 L427.60,319.38 L428.10,319.62 L428.60,319.84 L429.10,320.04 L429.60,320.22 L430.10,320.38 L430.60,320.53 L431.10,320.66 L431.60,320.77 L432.10,320.88 L432.60,320.97 L433.10,321.06 L433.60,321.14 L434.10,321.21 L434.60,321.27 L435.10,321.33 L435.60,321.39 L436.10,321.44 L436.60,321.48 L437.10,321.52 L437.60,321.56 L438.10,321.60 L438.60,321.63 L439.10,321.66 L439.60,321.69 L440.10,321.72 L440.60,321.75 L441.10,321.78 L441.60,321.80 L442.10,321.82 L442.60,321.84 L443.10,321.87 L443.60,321.89 L444.10,321.90 L444.60,321.92 L445.10,321.94 L445.60,321.96 L446.10,321.97 L446.60,321.99 L447.10,322.01 L447.60,322.02 L448.10,322.03 L448.60,322.05 L448.70,322.05" fill="none" stroke="#ff00ff" stroke-width="1.5" stroke-linejoin="round" stroke-linecap="round" />
<path d="M257.10,320.22 L257.60,320.21 L258.10,320.21 L258.60,320.20 L259.10,320.19 L259.60,320.18 L260.10,320.18 L260.60,320.17 L261.10,320.16 L261.60,320.15 L262.10,320.15 L262.60,320.14 L263.10,320.13 L263.60,320.12 L264.10,320.11 L264.60,320.10 L265.10,320.09 L265.60,320.08 L266.10,320.07 L266.60,320.06 L267.10,320.05 L267.60,320.04 L268.10,320.03 L268.60,320.02 L269.10,320.01 L269.60,320.00 L270.10,319.98 L270.60,319.97 L271.10,319.96 L271.60,319.95 L272.10,319.93 L272.60,319.92 L273.10,319.91 L273.60,319.89 L274.10,319.88 L274.60,319.86 L275.10,319.85 L275.60,319.83 L276.10,319.82 L276.60,319.80 L277.10,319.79 L277.60,319.77 L278.10,319.75 L278.60,319.74 L279.10,319.72 L279.60,319.70 L280.10,319.68 L280.60,319.66 L281.10,319.64 L281.60,319.62 L282.10,319.60 L282.60,319.58 L283.10,319.56 L283.60,319.54 L284.10,319.52 L284.60,319.49 L285.10,319.47 L285.60,319.45 L286.10,319.42 L286.60,319.40 L287.10,319.37 L287.60,319.34 L288.10,319.32 L288.60,319.29 L289.10,319.26 L289.60,319.23 L290.10,319.20 L290.60,319.17 L291.10,319.14 L291.60,319.11 L292.10,319.08 L292.60,319.05 L293.10,319.01 L293.60,318.98 L294.10,318.94 L294.60,318.91 L295.10,318.87 L295.60,318.83 L296.10,318.79 L296.60,318.75 L297.10,318.71 L297.60,318.67 L298.10,318.63 L298.60,318.58 L299.10,318.54 L299.60,318.49 L300.10,318.45 L300.60,318.40 L301.10,318.35 L301.60,318.30 L302.10,318.24 L302.60,318.19 L303.10,318.14 L303.60,318.08 L304.10,318.02 L304.60,317.96 L305.10,317.90 L305.60,317.84 L306.10,317.77 L306.60,317.71 L307.10,317.64 L307.60,317.57 L308.10,317.50 L308.60,317.43 L309.10,317.35 L309.60,317.27 L310.10,317.19 L310.60,317.11 L311.10,317.03 L311.60,316.94 L312.10,316.85 L312.60,316.76 L313.10,316.67 L313.60,316.57 L314.10,316.47 L314.60,316.36 L315.10,316.26 L315.60,316.15 L316.10,316.03 L316.60,315.92 L317.10,315.80 L317.60,315.67 L318.10,315.54 L318.60,315.41 L319.10,315.27 L319.60,315.13 L320.10,314.98 L320.60,314.82 L321.10,314.66 L321.60,314.50 L322.10,314.33 L322.60,314.15 L323.10,313.96 L323.60,313.77 L324.10,313.57 L324.60,313.35 L325.10,313.13 L325.60,312.90 L326.10,312.66 L326.60,312.41 L327.10,312.14 L327.60,311.86 L328.10,311.57 L328.60,311.26 L329.10,310.94 L329.60,310.60 L330.10,310.23 L330.60,309.85 L331.10,309.45 L331.60,309.03 L332.10,308.58 L332.60,308.10 L333.10,307.60 L333.60,307.06 L334.10,306.50 L334.60,305.90 L335.10,305.26 L335.60,304.59 L336.10,303.87 L336.60,303.12 L337.10,302.31 L337.60,301.46 L338.10,300.56 L338.60,299.61 L339.10,298.60 L339.60,297.53 L340.10,296.40 L340.60,295.21 L341.10,293.95 L341.60,292.62 L342.10,291.22 L342.60,289.75 L343.10,288.20 L343.60,286.58 L344.10,284.88 L344.60,283.09 L345.10,281.22 L345.60,279.27 L346.10,277.23 L346.60,275.11 L347.10,272.90 L347.60,270.60 L348.10,268.22 L348.60,265.75 L349.10,263.20 L349.60,260.57 L350.10,257.85 L350.60,255.07 L351.10,252.21 L351.60,249.28 L352.10,246.30 L352.60,243.26 L353.10,240.17 L353.60,237.05 L354.10,233.90 L354.60,230.74 L355.10,227.58 L355.60,224.43 L356.10,221.31 L356.60,218.24 L357.10,215.24 L357.60,212.32 L358.10,209.52 L358.60,206.85 L359.10,204.34 L359.60,202.02 L360.10,199.89 L360.60,198.00 L361.10,196.36 L361.60,194.99 L362.10,193.91 L362.60,193.13 L363.10,192.66 L363.60,192.51 L364.10,192.68 L364.60,193.17 L365.10,193.97 L365.60,195.07 L366.10,196.46 L366.60,198.12 L367.10,200.03 L367.60,202.17 L368.10,204.52 L368.60,207.04 L369.10,209.73 L369.60,212.54 L370.10,215.47 L370.60,218.49 L371.10,221.57 L371.60,224.70 L372.10,227.86 L372.60,231.04 L373.10,234.21 L373.60,237.37 L374.10,240.50 L374.60,243.60 L375.10,246.64 L375.60,249.64 L376.10,252.57 L376.60,255.44 L377.10,258.24 L377.60,260.96 L378.10,263.60 L378.60,266.16 L379.10,268.63 L379.60,271.02 L380.10,273.33 L380.60,275.55 L381.10,277.68 L381.60,279.73 L382.10,281.69 L382.60,283.56 L383.10,285.36 L383.60,287.07 L384.10,288.70 L384.60,290.26 L385.10,291.74 L385.60,293.15 L386.10,294.48 L386.60,295.75 L387.10,296.95 L387.60,298.09 L388.10,299.17 L388.60,300.19 L389.10,301.15 L389.60,302.06 L390.10,302.92 L390.60,303.73 L391.10,304.50 L391.60,305.23 L392.10,305.91 L392.60,306.55 L393.10,307.16 L393.60,307.74 L394.10,308.28 L394.60,308.80 L395.10,309.28 L395.60,309.74 L396.10,310.18 L396.60,310.59 L397.10,310.98 L397.60,311.35 L398.10,311.71 L398.60,312.04 L399.10,312.36 L399.60,312.66 L400.10,312.95 L400.60,313.23 L401.10,313.49 L401.60,313.75 L402.10,313.99 L402.60,314.22 L403.10,314.44 L403.60,314.65 L404.10,314.86 L404.60,315.06 L405.10,315.25 L405.60,315.43 L406.10,315.61 L406.60,315.78 L407.10,315.94 L407.60,316.10 L408.10,316.25 L408.60,316.40 L409.10,316.55 L409.60,316.69 L410.10,316.82 L410.60,316.95 L411.10,317.08 L411.60,317.21 L412.10,317.33 L412.60,317.45 L413.10,317.56 L413.60,317.67 L414.10,317.78 L414.60,317.88 L415.10,317.99 L415.60,318.09 L416.10,318.19 L416.60,318.28 L417.10,318.37 L417.60,318.46 L418.10,318.55 L418.60,318.64 L419.10,318.72 L419.60,318.81 L420.10,318.89 L420.60,318.97 L421.10,319.04 L421.60,319.12 L422.10,319.19 L422.60,319.26 L423.10,319.33 L423.60,319.40 L424.10,319.47 L424.60,319.54 L425.10,319.60 L425.60,319.66 L426.10,319.72 L426.60,319.79 L427.10,319.84 L427.60,319.90 L428.10,319.96 L428.60,320.02 L429.10,320.07 L429.60,320.12 L430.10,320.18 L430.60,320.23 L431.10,320.28 L431.60,320.33 L432.10,320.38 L432.60,320.43 L433.10,320.47 L433.60,320.52 L434.10,320.57 L434.60,320.61 L435.10,320.65 L435.60,320.70 L436.10,320.74 L436.60,320.78 L437.10,320.82 L437.60,320.86 L438.10,320.90 L438.60,320.94 L439.10,320.98 L439.60,321.02 L440.10,321.05 L440.60,321.09 L441.10,321.13 L441.60,321.16 L442.10,321.20 L442.60,321.23 L443.10,321.27 L443.60,321.30 L444.10,321.33 L444.60,321.36 L445.10,321.40 L445.60,321.43 L446.10,321.46 L446.60,321.49 L447.10,321.52 L447.60,321.55 L448.10,321.58 L448.60,321.61 L448.70,321.61" fill="none" stroke="#0a960a" stroke-width="1.5" stroke-linejoin="round" stroke-linecap="round" />
<path d="M257.10,320.75 L257.60,320.75 L258.10,320.74 L258.60,320.73 L259.10,320.73 L259.60,320.72 L260.10,320.72 L260.60,320.71 L261.10,320.70 L261.60,320.70 L262.10,320.69 L262.60,320.68 L263.10,320.67 L263.60,320.67 L264.10,320.66 L264.60,320.65 L265.10,320.64 L265.60,320.63 L266.10,320.62 L266.60,320.61 L267.10,320.60 L267.60,320.59 L268.10,320.58 L268.60,320.57 L269.10,320.55 L269.60,320.54 L270.10,320.53 L270.60,320.51 L271.10,320.50 L271.60,320.49 L272.10,320.47 L272.60,320.46 L273.10,320.44 L273.60,320.42 L274.10,320.41 L274.60,320.39 L275.10,320.37 L275.60,320.35 L276.10,320.33 L276.60,320.31 L277.10,320.29 L277.60,320.27 L278.10,320.25 L278.60,320.22 L279.10,320.20 L279.60,320.17 L280.10,320.15 L280.60,320.12 L281.10,320.09 L281.60,320.06 L282.10,320.03 L282.60,320.00 L283.10,319.97 L283.60,319.93 L284.10,319.90 L284.60,319.86 L285.10,319.82 L285.60,319.78 L286.10,319.74 L286.60,319.70 L287.10,319.65 L287.60,319.60 L288.10,319.55 L288.60,319.50 L289.10,319.44 L289.60,319.38 L290.10,319.32 L290.60,319.26 L291.10,319.19 L291.60,319.11 L292.10,319.04 L292.60,318.95 L293.10,318.86 L293.60,318.77 L294.10,318.67 L294.60,318.56 L295.10,318.45 L295.60,318.32 L296.10,318.19 L296.60,318.05 L297.10,317.90 L297.60,317.74 L298.10,317.56 L298.60,317.37 L299.10,317.17 L299.60,316.95 L300.10,316.72 L300.60,316.46 L301.10,316.19 L301.60,315.90 L302.10,315.59 L302.60,315.25 L303.10,314.89 L303.60,314.50 L304.10,314.08 L304.60,313.64 L305.10,313.17 L305.60,312.66 L306.10,312.12 L306.60,311.55 L307.10,310.94 L307.60,310.29 L308.10,309.61 L308.60,308.89 L309.10,308.12 L309.60,307.32 L310.10,306.48 L310.60,305.59 L311.10,304.66 L311.60,303.69 L312.10,302.68 L312.60,301.63 L313.10,300.53 L313.60,299.40 L314.10,298.23 L314.60,297.03 L315.10,295.79 L315.60,294.52 L316.10,293.22 L316.60,291.90 L317.10,290.56 L317.60,289.20 L318.10,287.83 L318.60,286.45 L319.10,285.07 L319.60,283.70 L320.10,282.34 L320.60,281.01 L321.10,279.70 L321.60,278.44 L322.10,277.22 L322.60,276.06 L323.10,274.97 L323.60,273.95 L324.10,273.03 L324.60,272.20 L325.10,271.49 L325.60,270.89 L326.10,270.41 L326.60,270.06 L327.10,269.85 L327.60,269.78 L328.10,269.84 L328.60,270.05 L329.10,270.39 L329.60,270.86 L330.10,271.45 L330.60,272.17 L331.10,272.99 L331.60,273.91 L332.10,274.92 L332.60,276.02 L333.10,277.18 L333.60,278.40 L334.10,279.67 L334.60,280.98 L335.10,282.33 L335.60,283.69 L336.10,285.07 L336.60,286.46 L337.10,287.85 L337.60,289.23 L338.10,290.61 L338.60,291.96 L339.10,293.30 L339.60,294.61 L340.10,295.89 L340.60,297.15 L341.10,298.37 L341.60,299.55 L342.10,300.70 L342.60,301.81 L343.10,302.88 L343.60,303.91 L344.10,304.89 L344.60,305.84 L345.10,306.74 L345.60,307.60 L346.10,308.42 L346.60,309.20 L347.10,309.94 L347.60,310.64 L348.10,311.31 L348.60,311.93 L349.10,312.52 L349.60,313.07 L350.10,313.59 L350.60,314.08 L351.10,314.54 L351.60,314.97 L352.10,315.37 L352.60,315.75 L353.10,316.10 L353.60,316.43 L354.10,316.73 L354.60,317.02 L355.10,317.29 L355.60,317.53 L356.10,317.77 L356.60,317.98 L357.10,318.18 L357.60,318.37 L358.10,318.55 L358.60,318.71 L359.10,318.87 L359.60,319.01 L360.10,319.15 L360.60,319.27 L361.10,319.39 L361.60,319.50 L362.10,319.61 L362.60,319.71 L363.10,319.80 L363.60,319.89 L364.10,319.98 L364.60,320.06 L365.10,320.14 L365.60,320.21 L366.10,320.28 L366.60,320.35 L367.10,320.41 L367.60,320.47 L368.10,320.53 L368.60,320.59 L369.10,320.65 L369.60,320.70 L370.10,320.75 L370.60,320.80 L371.10,320.85 L371.60,320.90 L372.10,320.94 L372.60,320.98 L373.10,321.03 L373.60,321.07 L374.10,321.11 L374.60,321.15 L375.10,321.19 L375.60,321.22 L376.10,321.26 L376.60,321.30 L377.10,321.33 L377.60,321.36 L378.10,321.40 L378.60,321.43 L379.10,321.46 L379.60,321.49 L380.10,321.52 L380.60,321.55 L381.10,321.58 L381.60,321.61 L382.10,321.64 L382.60,321.66 L383.10,321.69 L383.60,321.72 L384.10,321.74 L384.60,321.77 L385.10,321.79 L385.60,321.81 L386.10,321.84 L386.60,321.86 L387.10,321.88 L387.60,321.91 L388.10,321.93 L388.60,321.95 L389.10,321.97 L389.60,321.99 L390.10,322.01 L390.60,322.03 L391.10,322.05 L391.60,322.07 L392.10,322.09 L392.60,322.11 L393.10,322.13 L393.60,322.15 L394.10,322.16 L394.60,322.18 L395.10,322.20 L395.60,322.22 L396.10,322.23 L396.60,322.25 L397.10,322.27 L397.60,322.28 L398.10,322.30 L398.60,322.32 L399.10,322.33 L399.60,322.35 L400.10,322.36 L400.60,322.38 L401.10,322.39 L401.60,322.41 L402.10,322.42 L402.60,322.44 L403.10,322.45 L403.60,322.46 L404.10,322.48 L404.60,322.49 L405.10,322.51 L405.60,322.52 L406.10,322.53 L406.60,322.54 L407.10,322.56 L407.60,322.57 L408.10,322.58 L408.60,322.60 L409.10,322.61 L409.60,322.62 L410.10,322.63 L410.60,322.65 L411.10,322.66 L411.60,322.67 L412.10,322.68 L412.60,322.69 L413.10,322.70 L413.60,322.72 L414.10,322.73 L414.60,322.74 L415.10,322.75 L415.60,322.76 L416.10,322.77 L416.60,322.78 L417.10,322.79 L417.60,322.80 L418.10,322.81 L418.60,322.82 L419.10,322.84 L419.60,322.85 L420.10,322.86 L420.60,322.87 L421.10,322.88 L421.60,322.89 L422.10,322.90 L422.60,322.91 L423.10,322.92 L423.60,322.93 L424.10,322.94 L424.60,322.95 L425.10,322.96 L425.60,322.96 L426.10,322.97 L426.60,322.98 L427.10,322.99 L427.60,323.00 L428.10,323.01 L428.60,323.02 L429.10,323.03 L429.60,323.04 L430.10,323.05 L430.60,323.06 L431.10,323.07 L431.60,323.08 L432.10,323.08 L432.60,323.09 L433.10,323.10 L433.60,323.11 L434.10,323.12 L434.60,323.13 L435.10,323.14 L435.60,323.14 L436.10,323.15 L436.60,323.16 L437.10,323.17 L437.60,323.18 L438.10,323.19 L438.60,323.20 L439.10,323.20 L439.60,323.21 L440.10,323.22 L440.60,323.23 L441.10,323.24 L441.60,323.24 L442.10,323.25 L442.60,323.26 L443.10,323.27 L443.60,323.28 L444.10,323.28 L444.60,323.29 L445.10,323.30 L445.60,323.31 L446.10,323.32 L446.60,323.32 L447.10,323.33 L447.60,323.34 L448.10,323.35 L448.60,323.35 L448.70,323.36" fill="none" stroke="#0a0a9a" stroke-width="1.5" stroke-linejoin="round" stroke-linecap="round" />
<path d="M257.10,319.28 L257.60,319.25 L258.10,319.23 L258.60,319.21 L259.10,319.19 L259.60,319.16 L260.10,319.14 L260.60,319.12 L261.10,319.09 L261.60,319.06 L262.10,319.04 L262.60,319.01 L263.10,318.98 L263.60,318.95 L264.10,318.93 L264.60,318.90 L265.10,318.87 L265.60,318.83 L266.10,318.80 L266.60,318.77 L267.10,318.74 L267.60,318.70 L268.10,318.67 L268.60,318.63 L269.10,318.59 L269.60,318.55 L270.10,318.52 L270.60,318.48 L271.10,318.43 L271.60,318.39 L272.10,318.35 L272.60,318.30 L273.10,318.26 L273.60,318.21 L274.10,318.16 L274.60,318.12 L275.10,318.07 L275.60,318.01 L276.10,317.96 L276.60,317.91 L277.10,317.85 L277.60,317.79 L278.10,317.73 L278.60,317.67 L279.10,317.61 L279.60,317.54 L280.10,317.48 L280.60,317.41 L281.10,317.34 L281.60,317.26 L282.10,317.19 L282.60,317.11 L283.10,317.03 L283.60,316.95 L284.10,316.87 L284.60,316.78 L285.10,316.69 L285.60,316.60 L286.10,316.50 L286.60,316.40 L287.10,316.30 L287.60,316.19 L288.10,316.08 L288.60,315.97 L289.10,315.85 L289.60,315.73 L290.10,315.61 L290.60,315.47 L291.10,315.34 L291.60,315.20 L292.10,315.05 L292.60,314.90 L293.10,314.74 L293.60,314.57 L294.10,314.40 L294.60,314.22 L295.10,314.03 L295.60,313.83 L296.10,313.62 L296.60,313.41 L297.10,313.18 L297.60,312.94 L298.10,312.69 L298.60,312.43 L299.10,312.16 L299.60,311.87 L300.10,311.56 L300.60,311.24 L301.10,310.91 L301.60,310.55 L302.10,310.18 L302.60,309.78 L303.10,309.37 L303.60,308.93 L304.10,308.47 L304.60,307.99 L305.10,307.48 L305.60,306.94 L306.10,306.37 L306.60,305.77 L307.10,305.15 L307.60,304.49 L308.10,303.79 L308.60,303.06 L309.10,302.30 L309.60,301.49 L310.10,300.65 L310.60,299.77 L311.10,298.84 L311.60,297.88 L312.10,296.87 L312.60,295.82 L313.10,294.72 L313.60,293.58 L314.10,292.39 L314.60,291.16 L315.10,289.89 L315.60,288.57 L316.10,287.21 L316.60,285.80 L317.10,284.36 L317.60,282.89 L318.10,281.38 L318.60,279.84 L319.10,278.27 L319.60,276.69 L320.10,275.10 L320.60,273.50 L321.10,271.91 L321.60,270.33 L322.10,268.77 L322.60,267.26 L323.10,265.79 L323.60,264.39 L324.10,263.06 L324.60,261.82 L325.10,260.69 L325.60,259.68 L326.10,258.79 L326.60,258.04 L327.10,257.44 L327.60,256.98 L328.10,256.69 L328.60,256.55 L329.10,256.56 L329.60,256.72 L330.10,257.02 L330.60,257.45 L331.10,257.99 L331.60,258.63 L332.10,259.36 L332.60,260.16 L333.10,261.01 L333.60,261.90 L334.10,262.81 L334.60,263.72 L335.10,264.62 L335.60,265.49 L336.10,266.33 L336.60,267.11 L337.10,267.83 L337.60,268.48 L338.10,269.05 L338.60,269.52 L339.10,269.90 L339.60,270.18 L340.10,270.34 L340.60,270.38 L341.10,270.31 L341.60,270.11 L342.10,269.78 L342.60,269.32 L343.10,268.72 L343.60,267.98 L344.10,267.11 L344.60,266.10 L345.10,264.95 L345.60,263.66 L346.10,262.24 L346.60,260.67 L347.10,258.98 L347.60,257.15 L348.10,255.19 L348.60,253.11 L349.10,250.92 L349.60,248.61 L350.10,246.19 L350.60,243.68 L351.10,241.08 L351.60,238.40 L352.10,235.64 L352.60,232.83 L353.10,229.97 L353.60,227.08 L354.10,224.16 L354.60,221.24 L355.10,218.33 L355.60,215.44 L356.10,212.60 L356.60,209.83 L357.10,207.13 L357.60,204.54 L358.10,202.07 L358.60,199.74 L359.10,197.58 L359.60,195.60 L360.10,193.83 L360.60,192.29 L361.10,190.98 L361.60,189.93 L362.10,189.15 L362.60,188.65 L363.10,188.44 L363.60,188.52 L364.10,188.89 L364.60,189.56 L365.10,190.50 L365.60,191.73 L366.10,193.21 L366.60,194.95 L367.10,196.92 L367.60,199.10 L368.10,201.48 L368.60,204.04 L369.10,206.75 L369.60,209.61 L370.10,212.57 L370.60,215.64 L371.10,218.79 L371.60,221.99 L372.10,225.24 L372.60,228.52 L373.10,231.82 L373.60,235.11 L374.10,238.39 L374.60,241.64 L375.10,244.86 L375.60,248.02 L376.10,251.14 L376.60,254.18 L377.10,257.16 L377.60,260.06 L378.10,262.87 L378.60,265.59 L379.10,268.22 L379.60,270.76 L380.10,273.19 L380.60,275.52 L381.10,277.74 L381.60,279.86 L382.10,281.87 L382.60,283.78 L383.10,285.57 L383.60,287.27 L384.10,288.85 L384.60,290.34 L385.10,291.72 L385.60,293.00 L386.10,294.18 L386.60,295.26 L387.10,296.25 L387.60,297.14 L388.10,297.94 L388.60,298.66 L389.10,299.29 L389.60,299.83 L390.10,300.29 L390.60,300.67 L391.10,300.98 L391.60,301.20 L392.10,301.36 L392.60,301.44 L393.10,301.45 L393.60,301.39 L394.10,301.27 L394.60,301.08 L395.10,300.83 L395.60,300.51 L396.10,300.14 L396.60,299.71 L397.10,299.23 L397.60,298.69 L398.10,298.10 L398.60,297.47 L399.10,296.79 L399.60,296.08 L400.10,295.33 L400.60,294.56 L401.10,293.76 L401.60,292.95 L402.10,292.13 L402.60,291.32 L403.10,290.53 L403.60,289.77 L404.10,289.04 L404.60,288.37 L405.10,287.77 L405.60,287.25 L406.10,286.83 L406.60,286.51 L407.10,286.31 L407.60,286.23 L408.10,286.27 L408.60,286.45 L409.10,286.75 L409.60,287.18 L410.10,287.72 L410.60,288.37 L411.10,289.12 L411.60,289.94 L412.10,290.84 L412.60,291.79 L413.10,292.78 L413.60,293.80 L414.10,294.85 L414.60,295.90 L415.10,296.96 L415.60,298.01 L416.10,299.04 L416.60,300.06 L417.10,301.05 L417.60,302.02 L418.10,302.96 L418.60,303.87 L419.10,304.74 L419.60,305.59 L420.10,306.39 L420.60,307.16 L421.10,307.90 L421.60,308.60 L422.10,309.27 L422.60,309.90 L423.10,310.51 L423.60,311.08 L424.10,311.61 L424.60,312.12 L425.10,312.60 L425.60,313.06 L426.10,313.49 L426.60,313.89 L427.10,314.27 L427.60,314.63 L428.10,314.96 L428.60,315.28 L429.10,315.58 L429.60,315.86 L430.10,316.12 L430.60,316.37 L431.10,316.60 L431.60,316.82 L432.10,317.03 L432.60,317.23 L433.10,317.42 L433.60,317.60 L434.10,317.76 L434.60,317.92 L435.10,318.07 L435.60,318.22 L436.10,318.36 L436.60,318.49 L437.10,318.61 L437.60,318.73 L438.10,318.85 L438.60,318.96 L439.10,319.06 L439.60,319.16 L440.10,319.26 L440.60,319.36 L441.10,319.45 L441.60,319.54 L442.10,319.62 L442.60,319.70 L443.10,319.78 L443.60,319.86 L444.10,319.93 L444.60,320.01 L445.10,320.08 L445.60,320.15 L446.10,320.21 L446.60,320.28 L447.10,320.34 L447.60,320.40 L448.10,320.46 L448.60,320.52 L448.70,320.53" fill="none" stroke="#ff0000" stroke-width="1.5" stroke-linejoin="round" stroke-linecap="round" />
<rect x="256.60" y="185.30" width="192.60" height="152.20" fill="none" stroke="#000" stroke-width="1.5"/>
<line x1="449.20" y1="337.50" x2="449.20" y2="340.70" stroke="#000" stroke-width="1.3"/>
<text transform="translate(449.20,349.60) scale(1,1.05)" font-size="8.3" text-anchor="middle" >196</text>
<line x1="427.80" y1="337.50" x2="427.80" y2="339.70" stroke="#000" stroke-width="1.3"/>
<line x1="406.40" y1="337.50" x2="406.40" y2="340.70" stroke="#000" stroke-width="1.3"/>
<text transform="translate(406.40,349.60) scale(1,1.05)" font-size="8.3" text-anchor="middle" >198</text>
<line x1="385.00" y1="337.50" x2="385.00" y2="339.70" stroke="#000" stroke-width="1.3"/>
<line x1="363.60" y1="337.50" x2="363.60" y2="340.70" stroke="#000" stroke-width="1.3"/>
<text transform="translate(363.60,349.60) scale(1,1.05)" font-size="8.3" text-anchor="middle" >200</text>
<line x1="342.20" y1="337.50" x2="342.20" y2="339.70" stroke="#000" stroke-width="1.3"/>
<line x1="320.80" y1="337.50" x2="320.80" y2="340.70" stroke="#000" stroke-width="1.3"/>
<text transform="translate(320.80,349.60) scale(1,1.05)" font-size="8.3" text-anchor="middle" >202</text>
<line x1="299.40" y1="337.50" x2="299.40" y2="339.70" stroke="#000" stroke-width="1.3"/>
<line x1="278.00" y1="337.50" x2="278.00" y2="340.70" stroke="#000" stroke-width="1.3"/>
<text transform="translate(278.00,349.60) scale(1,1.05)" font-size="8.3" text-anchor="middle" >204</text>
<line x1="256.60" y1="337.50" x2="256.60" y2="339.70" stroke="#000" stroke-width="1.3"/>
<text transform="translate(276.20,202.40) scale(1,1.15)" font-size="11" text-anchor="middle" >Cl2p</text>
<text transform="translate(435.80,202.60) scale(1,1.1)" font-size="13.8" text-anchor="middle" >d</text>
<text transform="translate(327.35,203.60) scale(1,1.03)" font-size="8" text-anchor="middle" >200.03eV</text>
<text transform="translate(325.65,211.20) scale(1,1.03)" font-size="8.3" text-anchor="middle" >Ti-Cl-Ti</text>
<line x1="341.10" y1="208.80" x2="356.77" y2="213.91" stroke="#000" stroke-width="1.3"/>
<polygon points="360.10,215.00 355.20,215.51 356.44,211.70" fill="#000"/>
<text transform="translate(305.05,258.50) scale(1,1.03)" font-size="7.9" text-anchor="middle" >201.65eV</text>
<text transform="translate(298.05,267.10) scale(1,1.03)" font-size="8.5" text-anchor="middle" >C=C-Cl</text>
<line x1="312.80" y1="263.60" x2="319.94" y2="269.15" stroke="#000" stroke-width="1.3"/>
<polygon points="322.70,271.30 317.92,270.12 320.38,266.96" fill="#000"/>
<text transform="translate(425.85,268.70) scale(1,1.03)" font-size="7.8" text-anchor="middle" >197.92eV</text>
<text transform="translate(422.50,278.00) scale(1,1.03)" font-size="8.2" text-anchor="middle" >Ti-Cl</text>
<line x1="419.70" y1="281.00" x2="412.22" y2="293.31" stroke="#000" stroke-width="1.3"/>
<polygon points="410.40,296.30 411.03,291.42 414.45,293.49" fill="#000"/>
<text transform="translate(252.30,265.40) rotate(-90) scale(1,1.08)" font-size="11.6" text-anchor="middle">Intensity(a.u.)</text>
<text transform="translate(357.60,359.40) scale(1,1.08)" font-size="11.1" text-anchor="middle" >Binding Energy/eV</text>
<path d="M17.40,503.57 L18.40,503.02 L19.40,502.06 L20.40,501.04 L21.40,500.70 L22.40,502.11 L23.40,503.12 L24.40,504.05 L25.40,505.40 L26.40,506.57 L27.40,507.15 L28.40,506.75 L29.40,506.23 L30.40,505.20 L31.40,506.28 L32.40,506.45 L33.40,507.01 L34.40,507.31 L35.40,507.31 L36.40,506.45 L37.40,505.85 L38.40,504.98 L39.40,503.87 L40.40,503.37 L41.40,502.77 L42.40,502.64 L43.40,503.45 L44.40,503.26 L45.40,503.31 L46.40,503.96 L47.40,503.64 L48.40,504.36 L49.40,504.16 L50.40,504.34 L51.40,503.88 L52.40,503.65 L53.40,503.07 L54.40,502.56 L55.40,502.70 L56.40,501.77 L57.40,501.61 L58.40,500.73 L59.40,501.02 L60.40,500.65 L61.40,500.16 L62.40,499.69 L63.40,498.09 L64.40,496.39 L65.40,494.06 L66.40,492.29 L67.40,490.89 L68.40,488.74 L69.40,487.40 L70.40,485.39 L71.40,482.94 L72.40,480.65 L73.40,478.33 L74.40,475.76 L75.40,473.55 L76.40,470.38 L77.40,467.30 L78.40,464.25 L79.40,461.24 L80.40,458.01 L81.40,454.30 L82.40,451.05 L83.40,448.26 L84.40,446.05 L85.40,443.65 L86.40,442.27 L87.40,441.35 L88.40,441.48 L89.40,441.71 L90.40,442.67 L91.40,443.97 L92.40,445.50 L93.40,446.45 L94.40,448.12 L95.40,449.47 L96.40,450.85 L97.40,452.23 L98.40,453.74 L99.40,454.38 L100.40,454.47 L101.40,454.70 L102.40,451.83 L103.40,447.95 L104.40,446.45 L105.40,444.03 L106.40,441.92 L107.40,440.95 L108.40,439.48 L109.40,438.00 L110.40,434.91 L111.40,430.58 L112.40,425.88 L113.40,421.42 L114.40,415.80 L115.40,410.50 L116.40,405.78 L117.40,400.66 L118.40,395.63 L119.40,391.51 L120.40,387.20 L121.40,384.36 L122.40,382.34 L123.40,381.44 L124.40,380.90 L125.40,381.61 L126.40,383.68 L127.40,386.97 L128.40,390.82 L129.40,395.18 L130.40,399.80 L131.40,404.82 L132.40,410.76 L133.40,416.03 L134.40,421.76 L135.40,425.60 L136.40,429.89 L137.40,434.25 L138.40,437.86 L139.40,446.88 L140.40,455.92 L141.40,464.66 L142.40,473.25 L143.40,480.54 L144.40,482.92 L145.40,485.47 L146.40,487.12 L147.40,488.18 L148.40,488.05 L149.40,488.95 L150.40,490.03 L151.40,490.04 L152.40,491.62 L153.40,494.39 L154.40,496.76 L155.40,495.64 L156.40,494.34 L157.40,493.35 L158.40,492.56 L159.40,492.28 L160.40,492.96 L161.40,494.10 L162.40,492.96 L163.40,491.51 L164.40,491.27 L165.40,491.85 L166.40,493.17 L167.40,491.93 L168.40,490.28 L169.40,489.80 L170.40,489.62 L171.40,489.76 L172.40,490.27 L173.40,491.62 L174.40,492.59 L175.40,491.84 L176.40,491.23 L177.40,492.14 L178.40,493.05 L179.40,494.43 L180.40,495.44 L181.40,496.27 L182.40,497.16 L183.40,497.37 L184.40,498.44 L185.40,498.89 L186.40,500.09 L187.40,500.37 L188.40,501.39 L189.40,501.68 L190.40,502.56 L191.40,502.82 L192.40,503.13 L193.40,503.84 L194.40,504.22 L195.40,505.05 L196.40,505.13 L197.40,505.93 L198.40,506.60 L199.40,507.49 L200.40,507.09 L201.40,506.66 L202.40,505.80 L203.40,505.15 L204.40,504.82 L205.40,504.35 L206.40,504.61 L207.40,504.46 L208.40,504.46 L209.40,504.07 L210.40,504.56 L211.40,504.64 L212.00,504.32" fill="none" stroke="#000" stroke-width="1.3" stroke-linejoin="round" stroke-linecap="round" />
<path d="M17.40,506.59 L17.90,506.58 L18.40,506.58 L18.90,506.58 L19.40,506.58 L19.90,506.58 L20.40,506.58 L20.90,506.58 L21.40,506.58 L21.90,506.58 L22.40,506.57 L22.90,506.57 L23.40,506.57 L23.90,506.57 L24.40,506.57 L24.90,506.57 L25.40,506.57 L25.90,506.57 L26.40,506.57 L26.90,506.57 L27.40,506.56 L27.90,506.56 L28.40,506.56 L28.90,506.56 L29.40,506.56 L29.90,506.56 L30.40,506.56 L30.90,506.56 L31.40,506.56 L31.90,506.55 L32.40,506.55 L32.90,506.55 L33.40,506.55 L33.90,506.55 L34.40,506.55 L34.90,506.55 L35.40,506.55 L35.90,506.55 L36.40,506.54 L36.90,506.54 L37.40,506.54 L37.90,506.54 L38.40,506.54 L38.90,506.54 L39.40,506.54 L39.90,506.54 L40.40,506.54 L40.90,506.53 L41.40,506.53 L41.90,506.53 L42.40,506.53 L42.90,506.53 L43.40,506.53 L43.90,506.53 L44.40,506.53 L44.90,506.53 L45.40,506.52 L45.90,506.52 L46.40,506.52 L46.90,506.52 L47.40,506.52 L47.90,506.52 L48.40,506.52 L48.90,506.52 L49.40,506.51 L49.90,506.51 L50.40,506.51 L50.90,506.51 L51.40,506.51 L51.90,506.51 L52.40,506.51 L52.90,506.51 L53.40,506.51 L53.90,506.50 L54.40,506.50 L54.90,506.50 L55.40,506.50 L55.90,506.50 L56.40,506.50 L56.90,506.50 L57.40,506.50 L57.90,506.49 L58.40,506.49 L58.90,506.49 L59.40,506.49 L59.90,506.49 L60.40,506.49 L60.90,506.49 L61.40,506.49 L61.90,506.49 L62.40,506.48 L62.90,506.48 L63.40,506.48 L63.90,506.48 L64.40,506.48 L64.90,506.48 L65.40,506.48 L65.90,506.48 L66.40,506.47 L66.90,506.47 L67.40,506.47 L67.90,506.47 L68.40,506.47 L68.90,506.47 L69.40,506.47 L69.90,506.47 L70.40,506.46 L70.90,506.46 L71.40,506.46 L71.90,506.46 L72.40,506.46 L72.90,506.46 L73.40,506.46 L73.90,506.46 L74.40,506.45 L74.90,506.45 L75.40,506.45 L75.90,506.45 L76.40,506.45 L76.90,506.45 L77.40,506.45 L77.90,506.45 L78.40,506.44 L78.90,506.44 L79.40,506.44 L79.90,506.44 L80.40,506.44 L80.90,506.44 L81.40,506.44 L81.90,506.43 L82.40,506.43 L82.90,506.43 L83.40,506.43 L83.90,506.43 L84.40,506.43 L84.90,506.43 L85.40,506.42 L85.90,506.42 L86.40,506.42 L86.90,506.42 L87.40,506.42 L87.90,506.42 L88.40,506.42 L88.90,506.41 L89.40,506.41 L89.90,506.41 L90.40,506.41 L90.90,506.41 L91.40,506.41 L91.90,506.41 L92.40,506.40 L92.90,506.40 L93.40,506.40 L93.90,506.40 L94.40,506.40 L94.90,506.40 L95.40,506.39 L95.90,506.39 L96.40,506.39 L96.90,506.39 L97.40,506.39 L97.90,506.39 L98.40,506.38 L98.90,506.38 L99.40,506.38 L99.90,506.38 L100.40,506.38 L100.90,506.38 L101.40,506.37 L101.90,506.37 L102.40,506.37 L102.90,506.37 L103.40,506.37 L103.90,506.37 L104.40,506.36 L104.90,506.36 L105.40,506.36 L105.90,506.36 L106.40,506.36 L106.90,506.35 L107.40,506.35 L107.90,506.35 L108.40,506.35 L108.90,506.35 L109.40,506.34 L109.90,506.34 L110.40,506.34 L110.90,506.34 L111.40,506.34 L111.90,506.33 L112.40,506.33 L112.90,506.33 L113.40,506.33 L113.90,506.32 L114.40,506.32 L114.90,506.32 L115.40,506.32 L115.90,506.31 L116.40,506.31 L116.90,506.31 L117.40,506.31 L117.90,506.30 L118.40,506.30 L118.90,506.30 L119.40,506.30 L119.90,506.29 L120.40,506.29 L120.90,506.29 L121.40,506.28 L121.90,506.28 L122.40,506.28 L122.90,506.28 L123.40,506.27 L123.90,506.27 L124.40,506.27 L124.90,506.26 L125.40,506.26 L125.90,506.26 L126.40,506.25 L126.90,506.25 L127.40,506.24 L127.90,506.24 L128.40,506.24 L128.90,506.23 L129.40,506.23 L129.90,506.22 L130.40,506.22 L130.90,506.22 L131.40,506.21 L131.90,506.21 L132.40,506.20 L132.90,506.20 L133.40,506.19 L133.90,506.19 L134.40,506.18 L134.90,506.17 L135.40,506.17 L135.90,506.16 L136.40,506.16 L136.90,506.15 L137.40,506.14 L137.90,506.14 L138.40,506.13 L138.90,506.12 L139.40,506.11 L139.90,506.11 L140.40,506.10 L140.90,506.09 L141.40,506.08 L141.90,506.07 L142.40,506.06 L142.90,506.05 L143.40,506.04 L143.90,506.03 L144.40,506.02 L144.90,506.00 L145.40,505.99 L145.90,505.98 L146.40,505.96 L146.90,505.95 L147.40,505.93 L147.90,505.91 L148.40,505.89 L148.90,505.87 L149.40,505.85 L149.90,505.82 L150.40,505.80 L150.90,505.77 L151.40,505.73 L151.90,505.70 L152.40,505.66 L152.90,505.62 L153.40,505.57 L153.90,505.52 L154.40,505.46 L154.90,505.40 L155.40,505.33 L155.90,505.25 L156.40,505.17 L156.90,505.08 L157.40,504.98 L157.90,504.87 L158.40,504.75 L158.90,504.63 L159.40,504.49 L159.90,504.34 L160.40,504.18 L160.90,504.01 L161.40,503.83 L161.90,503.64 L162.40,503.44 L162.90,503.23 L163.40,503.00 L163.90,502.77 L164.40,502.53 L164.90,502.28 L165.40,502.03 L165.90,501.77 L166.40,501.51 L166.90,501.25 L167.40,500.99 L167.90,500.74 L168.40,500.50 L168.90,500.27 L169.40,500.06 L169.90,499.87 L170.40,499.71 L170.90,499.57 L171.40,499.47 L171.90,499.40 L172.40,499.37 L172.90,499.38 L173.40,499.43 L173.90,499.51 L174.40,499.63 L174.90,499.77 L175.40,499.95 L175.90,500.15 L176.40,500.37 L176.90,500.60 L177.40,500.84 L177.90,501.10 L178.40,501.35 L178.90,501.61 L179.40,501.87 L179.90,502.12 L180.40,502.37 L180.90,502.61 L181.40,502.85 L181.90,503.07 L182.40,503.29 L182.90,503.50 L183.40,503.69 L183.90,503.88 L184.40,504.05 L184.90,504.21 L185.40,504.36 L185.90,504.50 L186.40,504.63 L186.90,504.75 L187.40,504.87 L187.90,504.97 L188.40,505.06 L188.90,505.14 L189.40,505.22 L189.90,505.29 L190.40,505.36 L190.90,505.41 L191.40,505.47 L191.90,505.51 L192.40,505.56 L192.90,505.60 L193.40,505.63 L193.90,505.66 L194.40,505.69 L194.90,505.72 L195.40,505.74 L195.90,505.77 L196.40,505.79 L196.90,505.80 L197.40,505.82 L197.90,505.84 L198.40,505.85 L198.90,505.86 L199.40,505.88 L199.90,505.89 L200.40,505.90 L200.90,505.91 L201.40,505.92 L201.90,505.93 L202.40,505.94 L202.90,505.94 L203.40,505.95 L203.90,505.96 L204.40,505.97 L204.90,505.97 L205.40,505.98 L205.90,505.98 L206.40,505.99 L206.90,506.00 L207.40,506.00 L207.90,506.00 L208.40,506.01 L208.90,506.01 L209.40,506.02 L209.90,506.02 L210.40,506.03 L210.90,506.03 L211.40,506.03 L211.90,506.04 L212.00,506.04" fill="none" stroke="#9b1eff" stroke-width="1.5" stroke-linejoin="round" stroke-linecap="round" />
<path d="M17.40,504.17 L17.90,504.16 L18.40,504.15 L18.90,504.14 L19.40,504.13 L19.90,504.12 L20.40,504.11 L20.90,504.10 L21.40,504.10 L21.90,504.09 L22.40,504.08 L22.90,504.07 L23.40,504.05 L23.90,504.04 L24.40,504.03 L24.90,504.02 L25.40,504.01 L25.90,504.00 L26.40,503.99 L26.90,503.98 L27.40,503.97 L27.90,503.95 L28.40,503.94 L28.90,503.93 L29.40,503.92 L29.90,503.90 L30.40,503.89 L30.90,503.88 L31.40,503.86 L31.90,503.85 L32.40,503.84 L32.90,503.82 L33.40,503.81 L33.90,503.79 L34.40,503.78 L34.90,503.76 L35.40,503.75 L35.90,503.73 L36.40,503.72 L36.90,503.70 L37.40,503.68 L37.90,503.67 L38.40,503.65 L38.90,503.63 L39.40,503.61 L39.90,503.60 L40.40,503.58 L40.90,503.56 L41.40,503.54 L41.90,503.52 L42.40,503.50 L42.90,503.48 L43.40,503.46 L43.90,503.44 L44.40,503.42 L44.90,503.39 L45.40,503.37 L45.90,503.35 L46.40,503.33 L46.90,503.30 L47.40,503.28 L47.90,503.25 L48.40,503.23 L48.90,503.20 L49.40,503.18 L49.90,503.15 L50.40,503.12 L50.90,503.10 L51.40,503.07 L51.90,503.04 L52.40,503.01 L52.90,502.98 L53.40,502.95 L53.90,502.92 L54.40,502.88 L54.90,502.85 L55.40,502.82 L55.90,502.78 L56.40,502.75 L56.90,502.71 L57.40,502.68 L57.90,502.64 L58.40,502.60 L58.90,502.56 L59.40,502.52 L59.90,502.48 L60.40,502.44 L60.90,502.39 L61.40,502.35 L61.90,502.31 L62.40,502.26 L62.90,502.21 L63.40,502.16 L63.90,502.11 L64.40,502.06 L64.90,502.01 L65.40,501.96 L65.90,501.90 L66.40,501.85 L66.90,501.79 L67.40,501.73 L67.90,501.67 L68.40,501.61 L68.90,501.54 L69.40,501.48 L69.90,501.41 L70.40,501.34 L70.90,501.27 L71.40,501.20 L71.90,501.12 L72.40,501.05 L72.90,500.97 L73.40,500.89 L73.90,500.80 L74.40,500.72 L74.90,500.63 L75.40,500.54 L75.90,500.45 L76.40,500.35 L76.90,500.25 L77.40,500.15 L77.90,500.04 L78.40,499.93 L78.90,499.82 L79.40,499.70 L79.90,499.58 L80.40,499.46 L80.90,499.33 L81.40,499.20 L81.90,499.06 L82.40,498.92 L82.90,498.78 L83.40,498.62 L83.90,498.47 L84.40,498.30 L84.90,498.13 L85.40,497.96 L85.90,497.77 L86.40,497.58 L86.90,497.38 L87.40,497.18 L87.90,496.96 L88.40,496.74 L88.90,496.50 L89.40,496.25 L89.90,495.99 L90.40,495.72 L90.90,495.43 L91.40,495.13 L91.90,494.82 L92.40,494.48 L92.90,494.13 L93.40,493.76 L93.90,493.36 L94.40,492.94 L94.90,492.50 L95.40,492.03 L95.90,491.53 L96.40,491.00 L96.90,490.44 L97.40,489.84 L97.90,489.21 L98.40,488.53 L98.90,487.81 L99.40,487.04 L99.90,486.22 L100.40,485.35 L100.90,484.42 L101.40,483.44 L101.90,482.39 L102.40,481.28 L102.90,480.10 L103.40,478.84 L103.90,477.51 L104.40,476.10 L104.90,474.61 L105.40,473.03 L105.90,471.37 L106.40,469.61 L106.90,467.76 L107.40,465.82 L107.90,463.78 L108.40,461.63 L108.90,459.39 L109.40,457.05 L109.90,454.61 L110.40,452.07 L110.90,449.43 L111.40,446.70 L111.90,443.87 L112.40,440.95 L112.90,437.95 L113.40,434.87 L113.90,431.73 L114.40,428.52 L114.90,425.27 L115.40,421.99 L115.90,418.68 L116.40,415.38 L116.90,412.10 L117.40,408.86 L117.90,405.70 L118.40,402.63 L118.90,399.70 L119.40,396.92 L119.90,394.33 L120.40,391.97 L120.90,389.87 L121.40,388.06 L121.90,386.57 L122.40,385.41 L122.90,384.62 L123.40,384.19 L123.90,384.15 L124.40,384.50 L124.90,385.21 L125.40,386.29 L125.90,387.72 L126.40,389.47 L126.90,391.51 L127.40,393.82 L127.90,396.36 L128.40,399.10 L128.90,402.01 L129.40,405.05 L129.90,408.20 L130.40,411.42 L130.90,414.70 L131.40,418.00 L131.90,421.31 L132.40,424.60 L132.90,427.86 L133.40,431.08 L133.90,434.24 L134.40,437.34 L134.90,440.36 L135.40,443.30 L135.90,446.15 L136.40,448.90 L136.90,451.56 L137.40,454.13 L137.90,456.59 L138.40,458.96 L138.90,461.22 L139.40,463.39 L139.90,465.45 L140.40,467.42 L140.90,469.29 L141.40,471.07 L141.90,472.75 L142.40,474.35 L142.90,475.86 L143.40,477.29 L143.90,478.64 L144.40,479.91 L144.90,481.11 L145.40,482.24 L145.90,483.31 L146.40,484.31 L146.90,485.25 L147.40,486.13 L147.90,486.96 L148.40,487.74 L148.90,488.48 L149.40,489.17 L149.90,489.81 L150.40,490.42 L150.90,490.99 L151.40,491.53 L151.90,492.04 L152.40,492.52 L152.90,492.97 L153.40,493.39 L153.90,493.79 L154.40,494.17 L154.90,494.53 L155.40,494.87 L155.90,495.19 L156.40,495.50 L156.90,495.79 L157.40,496.07 L157.90,496.33 L158.40,496.59 L158.90,496.83 L159.40,497.06 L159.90,497.28 L160.40,497.49 L160.90,497.69 L161.40,497.88 L161.90,498.07 L162.40,498.25 L162.90,498.42 L163.40,498.59 L163.90,498.75 L164.40,498.91 L164.90,499.06 L165.40,499.20 L165.90,499.34 L166.40,499.48 L166.90,499.61 L167.40,499.73 L167.90,499.86 L168.40,499.97 L168.90,500.09 L169.40,500.20 L169.90,500.31 L170.40,500.41 L170.90,500.52 L171.40,500.62 L171.90,500.71 L172.40,500.81 L172.90,500.90 L173.40,500.98 L173.90,501.07 L174.40,501.15 L174.90,501.24 L175.40,501.32 L175.90,501.39 L176.40,501.47 L176.90,501.54 L177.40,501.61 L177.90,501.68 L178.40,501.75 L178.90,501.82 L179.40,501.88 L179.90,501.94 L180.40,502.00 L180.90,502.06 L181.40,502.12 L181.90,502.18 L182.40,502.23 L182.90,502.29 L183.40,502.34 L183.90,502.39 L184.40,502.44 L184.90,502.49 L185.40,502.54 L185.90,502.59 L186.40,502.64 L186.90,502.68 L187.40,502.73 L187.90,502.77 L188.40,502.81 L188.90,502.85 L189.40,502.89 L189.90,502.93 L190.40,502.97 L190.90,503.01 L191.40,503.05 L191.90,503.08 L192.40,503.12 L192.90,503.15 L193.40,503.19 L193.90,503.22 L194.40,503.25 L194.90,503.29 L195.40,503.32 L195.90,503.35 L196.40,503.38 L196.90,503.41 L197.40,503.44 L197.90,503.47 L198.40,503.50 L198.90,503.52 L199.40,503.55 L199.90,503.58 L200.40,503.60 L200.90,503.63 L201.40,503.66 L201.90,503.68 L202.40,503.71 L202.90,503.73 L203.40,503.75 L203.90,503.78 L204.40,503.80 L204.90,503.82 L205.40,503.84 L205.90,503.86 L206.40,503.89 L206.90,503.91 L207.40,503.93 L207.90,503.95 L208.40,503.97 L208.90,503.99 L209.40,504.01 L209.90,504.03 L210.40,504.04 L210.90,504.06 L211.40,504.08 L211.90,504.10 L212.00,504.10" fill="none" stroke="#0a960a" stroke-width="1.5" stroke-linejoin="round" stroke-linecap="round" />
<path d="M17.40,504.25 L17.90,504.24 L18.40,504.23 L18.90,504.22 L19.40,504.20 L19.90,504.19 L20.40,504.18 L20.90,504.16 L21.40,504.15 L21.90,504.13 L22.40,504.12 L22.90,504.10 L23.40,504.09 L23.90,504.07 L24.40,504.06 L24.90,504.04 L25.40,504.02 L25.90,504.01 L26.40,503.99 L26.90,503.97 L27.40,503.95 L27.90,503.93 L28.40,503.91 L28.90,503.89 L29.40,503.87 L29.90,503.85 L30.40,503.83 L30.90,503.81 L31.40,503.78 L31.90,503.76 L32.40,503.74 L32.90,503.71 L33.40,503.69 L33.90,503.66 L34.40,503.63 L34.90,503.61 L35.40,503.58 L35.90,503.55 L36.40,503.52 L36.90,503.49 L37.40,503.46 L37.90,503.42 L38.40,503.39 L38.90,503.36 L39.40,503.32 L39.90,503.29 L40.40,503.25 L40.90,503.21 L41.40,503.17 L41.90,503.13 L42.40,503.09 L42.90,503.04 L43.40,503.00 L43.90,502.95 L44.40,502.90 L44.90,502.86 L45.40,502.80 L45.90,502.75 L46.40,502.70 L46.90,502.64 L47.40,502.58 L47.90,502.52 L48.40,502.46 L48.90,502.40 L49.40,502.33 L49.90,502.26 L50.40,502.19 L50.90,502.11 L51.40,502.03 L51.90,501.95 L52.40,501.87 L52.90,501.78 L53.40,501.69 L53.90,501.59 L54.40,501.49 L54.90,501.38 L55.40,501.27 L55.90,501.16 L56.40,501.04 L56.90,500.91 L57.40,500.77 L57.90,500.63 L58.40,500.48 L58.90,500.32 L59.40,500.15 L59.90,499.98 L60.40,499.79 L60.90,499.59 L61.40,499.37 L61.90,499.15 L62.40,498.91 L62.90,498.65 L63.40,498.38 L63.90,498.09 L64.40,497.77 L64.90,497.44 L65.40,497.09 L65.90,496.71 L66.40,496.31 L66.90,495.89 L67.40,495.43 L67.90,494.94 L68.40,494.43 L68.90,493.88 L69.40,493.30 L69.90,492.68 L70.40,492.02 L70.90,491.32 L71.40,490.59 L71.90,489.81 L72.40,488.99 L72.90,488.12 L73.40,487.21 L73.90,486.26 L74.40,485.26 L74.90,484.21 L75.40,483.11 L75.90,481.97 L76.40,480.78 L76.90,479.55 L77.40,478.27 L77.90,476.95 L78.40,475.59 L78.90,474.20 L79.40,472.77 L79.90,471.32 L80.40,469.84 L80.90,468.35 L81.40,466.85 L81.90,465.34 L82.40,463.85 L82.90,462.39 L83.40,460.95 L83.90,459.57 L84.40,458.24 L84.90,457.00 L85.40,455.84 L85.90,454.80 L86.40,453.88 L86.90,453.10 L87.40,452.47 L87.90,452.00 L88.40,451.70 L88.90,451.58 L89.40,451.64 L89.90,451.87 L90.40,452.28 L90.90,452.86 L91.40,453.59 L91.90,454.46 L92.40,455.46 L92.90,456.58 L93.40,457.79 L93.90,459.09 L94.40,460.46 L94.90,461.88 L95.40,463.34 L95.90,464.83 L96.40,466.33 L96.90,467.83 L97.40,469.33 L97.90,470.81 L98.40,472.28 L98.90,473.72 L99.40,475.13 L99.90,476.50 L100.40,477.84 L100.90,479.13 L101.40,480.39 L101.90,481.59 L102.40,482.75 L102.90,483.87 L103.40,484.94 L103.90,485.96 L104.40,486.93 L104.90,487.86 L105.40,488.74 L105.90,489.58 L106.40,490.38 L106.90,491.13 L107.40,491.84 L107.90,492.52 L108.40,493.15 L108.90,493.75 L109.40,494.31 L109.90,494.84 L110.40,495.34 L110.90,495.81 L111.40,496.25 L111.90,496.66 L112.40,497.05 L112.90,497.41 L113.40,497.75 L113.90,498.07 L114.40,498.37 L114.90,498.66 L115.40,498.92 L115.90,499.17 L116.40,499.40 L116.90,499.62 L117.40,499.83 L117.90,500.02 L118.40,500.21 L118.90,500.38 L119.40,500.54 L119.90,500.70 L120.40,500.85 L120.90,500.99 L121.40,501.12 L121.90,501.25 L122.40,501.37 L122.90,501.48 L123.40,501.59 L123.90,501.69 L124.40,501.79 L124.90,501.89 L125.40,501.98 L125.90,502.07 L126.40,502.15 L126.90,502.24 L127.40,502.31 L127.90,502.39 L128.40,502.46 L128.90,502.53 L129.40,502.60 L129.90,502.66 L130.40,502.73 L130.90,502.79 L131.40,502.85 L131.90,502.90 L132.40,502.96 L132.90,503.01 L133.40,503.06 L133.90,503.11 L134.40,503.16 L134.90,503.21 L135.40,503.26 L135.90,503.30 L136.40,503.34 L136.90,503.39 L137.40,503.43 L137.90,503.47 L138.40,503.51 L138.90,503.54 L139.40,503.58 L139.90,503.62 L140.40,503.65 L140.90,503.68 L141.40,503.72 L141.90,503.75 L142.40,503.78 L142.90,503.81 L143.40,503.84 L143.90,503.87 L144.40,503.90 L144.90,503.93 L145.40,503.95 L145.90,503.98 L146.40,504.01 L146.90,504.03 L147.40,504.05 L147.90,504.08 L148.40,504.10 L148.90,504.12 L149.40,504.15 L149.90,504.17 L150.40,504.19 L150.90,504.21 L151.40,504.23 L151.90,504.25 L152.40,504.27 L152.90,504.29 L153.40,504.31 L153.90,504.33 L154.40,504.35 L154.90,504.36 L155.40,504.38 L155.90,504.40 L156.40,504.41 L156.90,504.43 L157.40,504.45 L157.90,504.46 L158.40,504.48 L158.90,504.49 L159.40,504.51 L159.90,504.52 L160.40,504.53 L160.90,504.55 L161.40,504.56 L161.90,504.58 L162.40,504.59 L162.90,504.60 L163.40,504.61 L163.90,504.63 L164.40,504.64 L164.90,504.65 L165.40,504.66 L165.90,504.67 L166.40,504.69 L166.90,504.70 L167.40,504.71 L167.90,504.72 L168.40,504.73 L168.90,504.74 L169.40,504.75 L169.90,504.76 L170.40,504.77 L170.90,504.78 L171.40,504.79 L171.90,504.80 L172.40,504.81 L172.90,504.82 L173.40,504.83 L173.90,504.84 L174.40,504.84 L174.90,504.85 L175.40,504.86 L175.90,504.87 L176.40,504.88 L176.90,504.89 L177.40,504.89 L177.90,504.90 L178.40,504.91 L178.90,504.92 L179.40,504.93 L179.90,504.93 L180.40,504.94 L180.90,504.95 L181.40,504.96 L181.90,504.96 L182.40,504.97 L182.90,504.98 L183.40,504.98 L183.90,504.99 L184.40,505.00 L184.90,505.00 L185.40,505.01 L185.90,505.02 L186.40,505.02 L186.90,505.03 L187.40,505.03 L187.90,505.04 L188.40,505.05 L188.90,505.05 L189.40,505.06 L189.90,505.06 L190.40,505.07 L190.90,505.08 L191.40,505.08 L191.90,505.09 L192.40,505.09 L192.90,505.10 L193.40,505.10 L193.90,505.11 L194.40,505.11 L194.90,505.12 L195.40,505.12 L195.90,505.13 L196.40,505.13 L196.90,505.14 L197.40,505.14 L197.90,505.15 L198.40,505.15 L198.90,505.16 L199.40,505.16 L199.90,505.17 L200.40,505.17 L200.90,505.18 L201.40,505.18 L201.90,505.18 L202.40,505.19 L202.90,505.19 L203.40,505.20 L203.90,505.20 L204.40,505.21 L204.90,505.21 L205.40,505.21 L205.90,505.22 L206.40,505.22 L206.90,505.23 L207.40,505.23 L207.90,505.23 L208.40,505.24 L208.90,505.24 L209.40,505.25 L209.90,505.25 L210.40,505.25 L210.90,505.26 L211.40,505.26 L211.90,505.26 L212.00,505.26" fill="none" stroke="#0a0a9a" stroke-width="1.5" stroke-linejoin="round" stroke-linecap="round" />
<path d="M17.40,502.92 L17.90,502.89 L18.40,502.87 L18.90,502.84 L19.40,502.81 L19.90,502.78 L20.40,502.75 L20.90,502.72 L21.40,502.69 L21.90,502.66 L22.40,502.63 L22.90,502.59 L23.40,502.56 L23.90,502.52 L24.40,502.49 L24.90,502.45 L25.40,502.42 L25.90,502.38 L26.40,502.34 L26.90,502.30 L27.40,502.26 L27.90,502.22 L28.40,502.18 L28.90,502.14 L29.40,502.10 L29.90,502.05 L30.40,502.01 L30.90,501.96 L31.40,501.91 L31.90,501.86 L32.40,501.81 L32.90,501.76 L33.40,501.71 L33.90,501.66 L34.40,501.60 L34.90,501.55 L35.40,501.49 L35.90,501.43 L36.40,501.37 L36.90,501.31 L37.40,501.24 L37.90,501.18 L38.40,501.11 L38.90,501.04 L39.40,500.97 L39.90,500.90 L40.40,500.82 L40.90,500.75 L41.40,500.67 L41.90,500.58 L42.40,500.50 L42.90,500.41 L43.40,500.32 L43.90,500.23 L44.40,500.14 L44.90,500.04 L45.40,499.94 L45.90,499.83 L46.40,499.72 L46.90,499.61 L47.40,499.49 L47.90,499.37 L48.40,499.24 L48.90,499.11 L49.40,498.97 L49.90,498.83 L50.40,498.68 L50.90,498.53 L51.40,498.37 L51.90,498.20 L52.40,498.03 L52.90,497.84 L53.40,497.65 L53.90,497.45 L54.40,497.24 L54.90,497.02 L55.40,496.79 L55.90,496.55 L56.40,496.29 L56.90,496.02 L57.40,495.74 L57.90,495.45 L58.40,495.14 L58.90,494.81 L59.40,494.47 L59.90,494.11 L60.40,493.73 L60.90,493.34 L61.40,492.92 L61.90,492.48 L62.40,492.02 L62.90,491.54 L63.40,491.03 L63.90,490.50 L64.40,489.94 L64.90,489.36 L65.40,488.74 L65.90,488.10 L66.40,487.43 L66.90,486.74 L67.40,486.01 L67.90,485.24 L68.40,484.45 L68.90,483.62 L69.40,482.76 L69.90,481.87 L70.40,480.94 L70.90,479.98 L71.40,478.98 L71.90,477.95 L72.40,476.89 L72.90,475.79 L73.40,474.66 L73.90,473.50 L74.40,472.30 L74.90,471.08 L75.40,469.83 L75.90,468.55 L76.40,467.24 L76.90,465.92 L77.40,464.57 L77.90,463.21 L78.40,461.84 L78.90,460.46 L79.40,459.08 L79.90,457.70 L80.40,456.33 L80.90,454.98 L81.40,453.64 L81.90,452.34 L82.40,451.08 L82.90,449.86 L83.40,448.70 L83.90,447.60 L84.40,446.58 L84.90,445.63 L85.40,444.77 L85.90,444.01 L86.40,443.35 L86.90,442.79 L87.40,442.35 L87.90,442.02 L88.40,441.80 L88.90,441.69 L89.40,441.70 L89.90,441.81 L90.40,442.02 L90.90,442.33 L91.40,442.73 L91.90,443.20 L92.40,443.74 L92.90,444.34 L93.40,444.99 L93.90,445.67 L94.40,446.38 L94.90,447.10 L95.40,447.82 L95.90,448.54 L96.40,449.24 L96.90,449.90 L97.40,450.54 L97.90,451.12 L98.40,451.66 L98.90,452.13 L99.40,452.53 L99.90,452.86 L100.40,453.10 L100.90,453.25 L101.40,453.31 L101.90,453.28 L102.40,453.13 L102.90,452.88 L103.40,452.52 L103.90,452.04 L104.40,451.45 L104.90,450.73 L105.40,449.90 L105.90,448.94 L106.40,447.85 L106.90,446.64 L107.40,445.31 L107.90,443.86 L108.40,442.28 L108.90,440.58 L109.40,438.77 L109.90,436.84 L110.40,434.81 L110.90,432.67 L111.40,430.43 L111.90,428.11 L112.40,425.70 L112.90,423.22 L113.40,420.67 L113.90,418.07 L114.40,415.43 L114.90,412.76 L115.40,410.07 L115.90,407.38 L116.40,404.71 L116.90,402.07 L117.40,399.48 L117.90,396.97 L118.40,394.54 L118.90,392.22 L119.40,390.04 L119.90,388.01 L120.40,386.15 L120.90,384.49 L121.40,383.05 L121.90,381.84 L122.40,380.88 L122.90,380.19 L123.40,379.77 L123.90,379.63 L124.40,379.78 L124.90,380.22 L125.40,380.94 L125.90,381.93 L126.40,383.20 L126.90,384.72 L127.40,386.48 L127.90,388.47 L128.40,390.65 L128.90,393.03 L129.40,395.56 L129.90,398.24 L130.40,401.05 L130.90,403.95 L131.40,406.95 L131.90,410.00 L132.40,413.11 L132.90,416.24 L133.40,419.40 L133.90,422.56 L134.40,425.70 L134.90,428.83 L135.40,431.92 L135.90,434.97 L136.40,437.97 L136.90,440.91 L137.40,443.79 L137.90,446.59 L138.40,449.31 L138.90,451.95 L139.40,454.51 L139.90,456.98 L140.40,459.35 L140.90,461.63 L141.40,463.82 L141.90,465.91 L142.40,467.90 L142.90,469.80 L143.40,471.60 L143.90,473.31 L144.40,474.92 L144.90,476.44 L145.40,477.88 L145.90,479.22 L146.40,480.48 L146.90,481.66 L147.40,482.75 L147.90,483.77 L148.40,484.71 L148.90,485.58 L149.40,486.38 L149.90,487.12 L150.40,487.79 L150.90,488.41 L151.40,488.96 L151.90,489.47 L152.40,489.92 L152.90,490.32 L153.40,490.68 L153.90,490.99 L154.40,491.27 L154.90,491.51 L155.40,491.71 L155.90,491.88 L156.40,492.02 L156.90,492.14 L157.40,492.22 L157.90,492.29 L158.40,492.34 L158.90,492.36 L159.40,492.37 L159.90,492.37 L160.40,492.35 L160.90,492.33 L161.40,492.29 L161.90,492.25 L162.40,492.21 L162.90,492.16 L163.40,492.11 L163.90,492.06 L164.40,492.01 L164.90,491.96 L165.40,491.92 L165.90,491.89 L166.40,491.86 L166.90,491.84 L167.40,491.83 L167.90,491.83 L168.40,491.84 L168.90,491.87 L169.40,491.91 L169.90,491.96 L170.40,492.02 L170.90,492.10 L171.40,492.19 L171.90,492.30 L172.40,492.42 L172.90,492.56 L173.40,492.70 L173.90,492.87 L174.40,493.04 L174.90,493.23 L175.40,493.43 L175.90,493.65 L176.40,493.87 L176.90,494.10 L177.40,494.35 L177.90,494.60 L178.40,494.86 L178.90,495.12 L179.40,495.39 L179.90,495.66 L180.40,495.94 L180.90,496.22 L181.40,496.50 L181.90,496.78 L182.40,497.07 L182.90,497.35 L183.40,497.62 L183.90,497.90 L184.40,498.17 L184.90,498.44 L185.40,498.70 L185.90,498.96 L186.40,499.21 L186.90,499.45 L187.40,499.69 L187.90,499.91 L188.40,500.14 L188.90,500.35 L189.40,500.56 L189.90,500.75 L190.40,500.94 L190.90,501.12 L191.40,501.30 L191.90,501.46 L192.40,501.62 L192.90,501.77 L193.40,501.91 L193.90,502.04 L194.40,502.17 L194.90,502.29 L195.40,502.40 L195.90,502.50 L196.40,502.60 L196.90,502.70 L197.40,502.78 L197.90,502.87 L198.40,502.94 L198.90,503.02 L199.40,503.09 L199.90,503.15 L200.40,503.21 L200.90,503.27 L201.40,503.32 L201.90,503.37 L202.40,503.42 L202.90,503.46 L203.40,503.50 L203.90,503.54 L204.40,503.58 L204.90,503.61 L205.40,503.64 L205.90,503.68 L206.40,503.71 L206.90,503.73 L207.40,503.76 L207.90,503.79 L208.40,503.81 L208.90,503.84 L209.40,503.86 L209.90,503.88 L210.40,503.90 L210.90,503.92 L211.40,503.94 L211.90,503.96 L212.00,503.97" fill="none" stroke="#ff0000" stroke-width="1.5" stroke-linejoin="round" stroke-linecap="round" />
<rect x="16.70" y="365.90" width="195.90" height="155.00" fill="none" stroke="#000" stroke-width="1.5"/>
<line x1="212.60" y1="520.90" x2="212.60" y2="524.10" stroke="#000" stroke-width="1.3"/>
<text transform="translate(212.60,533.80) scale(1,1.05)" font-size="8.4" text-anchor="middle" >196</text>
<line x1="190.83" y1="520.90" x2="190.83" y2="523.10" stroke="#000" stroke-width="1.3"/>
<line x1="169.07" y1="520.90" x2="169.07" y2="524.10" stroke="#000" stroke-width="1.3"/>
<text transform="translate(169.07,533.80) scale(1,1.05)" font-size="8.4" text-anchor="middle" >198</text>
<line x1="147.30" y1="520.90" x2="147.30" y2="523.10" stroke="#000" stroke-width="1.3"/>
<line x1="125.53" y1="520.90" x2="125.53" y2="524.10" stroke="#000" stroke-width="1.3"/>
<text transform="translate(125.53,533.80) scale(1,1.05)" font-size="8.4" text-anchor="middle" >200</text>
<line x1="103.77" y1="520.90" x2="103.77" y2="523.10" stroke="#000" stroke-width="1.3"/>
<line x1="82.00" y1="520.90" x2="82.00" y2="524.10" stroke="#000" stroke-width="1.3"/>
<text transform="translate(82.00,533.80) scale(1,1.05)" font-size="8.4" text-anchor="middle" >202</text>
<line x1="60.23" y1="520.90" x2="60.23" y2="523.10" stroke="#000" stroke-width="1.3"/>
<line x1="38.47" y1="520.90" x2="38.47" y2="524.10" stroke="#000" stroke-width="1.3"/>
<text transform="translate(38.47,533.80) scale(1,1.05)" font-size="8.4" text-anchor="middle" >204</text>
<line x1="16.70" y1="520.90" x2="16.70" y2="523.10" stroke="#000" stroke-width="1.3"/>
<text transform="translate(38.30,382.30) scale(1,1.15)" font-size="11" text-anchor="middle" >Cl2p</text>
<text transform="translate(202.90,386.20) scale(1,1.1)" font-size="14.5" text-anchor="middle" >e</text>
<text transform="translate(91.35,392.90) scale(1,1.03)" font-size="8" text-anchor="middle" >200.09eV</text>
<text transform="translate(89.45,401.50) scale(1,1.03)" font-size="8.6" text-anchor="middle" >Ti-Cl-Ti</text>
<line x1="105.40" y1="399.00" x2="117.32" y2="404.53" stroke="#000" stroke-width="1.3"/>
<polygon points="120.50,406.00 115.58,405.92 117.26,402.29" fill="#000"/>
<text transform="translate(61.60,440.90) scale(1,1.03)" font-size="7.9" text-anchor="middle" >201.70eV</text>
<text transform="translate(57.60,451.40) scale(1,1.03)" font-size="8.6" text-anchor="middle" >C=C-Cl</text>
<line x1="72.40" y1="451.00" x2="84.94" y2="458.93" stroke="#000" stroke-width="1.3"/>
<polygon points="87.90,460.80 83.03,460.09 85.17,456.70" fill="#000"/>
<text transform="translate(181.25,471.60) scale(1,1.03)" font-size="8" text-anchor="middle" >197.89eV</text>
<text transform="translate(179.30,481.20) scale(1,1.03)" font-size="8.6" text-anchor="middle" >Ti-Cl</text>
<line x1="176.70" y1="483.00" x2="172.73" y2="497.33" stroke="#000" stroke-width="1.3"/>
<polygon points="171.80,500.70 171.07,495.83 174.93,496.90" fill="#000"/>
<text transform="translate(12.90,439.70) rotate(-90) scale(1,1.08)" font-size="11.9" text-anchor="middle">Intensity(a.u.)</text>
<text transform="translate(119.40,543.50) scale(1,1.08)" font-size="11.1" text-anchor="middle" >Binding Energy/eV</text>
</svg></body></html>
